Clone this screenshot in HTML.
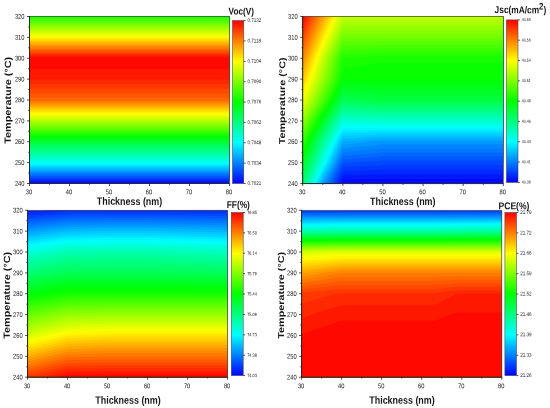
<!DOCTYPE html>
<html lang="en"><head><meta charset="utf-8"><title>Contour plots</title>
<style>html,body{margin:0;padding:0;background:#fff}body{width:550px;height:408px;overflow:hidden}svg{display:block}text{font-family:"Liberation Sans",sans-serif;fill:#161616}.b{font-weight:bold}</style></head><body>
<svg width="550" height="408" viewBox="0 0 550 408">
<defs>
<linearGradient id="cbg" x1="0" y1="0" x2="0" y2="1"><stop offset="0" stop-color="#ff0000"/><stop offset="0.25" stop-color="#ffff00"/><stop offset="0.5" stop-color="#00ff00"/><stop offset="0.75" stop-color="#00ffff"/><stop offset="1" stop-color="#0000ff"/></linearGradient>
<clipPath id="cpa"><rect x="29.5" y="16.5" width="200" height="167"/></clipPath>
<clipPath id="cpb"><rect x="302.7" y="16.5" width="200.6" height="167.1"/></clipPath>
<clipPath id="cpc"><rect x="27.6" y="210.3" width="200" height="166.9"/></clipPath>
<clipPath id="cpd"><rect x="301.6" y="210.3" width="200.2" height="166.9"/></clipPath>
</defs>
<g clip-path="url(#cpa)">
<rect x="29.5" y="16.5" width="200" height="167" fill="#0008ff"/>
<path fill="#0018ff" d="M29.5 16.5L229.5 16.5L229.5 37.4L229.5 58.2L229.5 79.1L229.5 100L229.5 120.9L229.5 141.8L229.5 162.6L229.5 182.2L29.5 182.2L29.5 162.6L29.5 141.8L29.5 120.9L29.5 100L29.5 79.1L29.5 58.2L29.5 37.4Z"/>
<path fill="#0028ff" d="M29.5 16.5L229.5 16.5L229.5 37.4L229.5 58.2L229.5 79.1L229.5 100L229.5 120.9L229.5 141.8L229.5 162.6L229.5 181L29.5 181L29.5 162.6L29.5 141.8L29.5 120.9L29.5 100L29.5 79.1L29.5 58.2L29.5 37.4Z"/>
<path fill="#0038ff" d="M29.5 16.5L229.5 16.5L229.5 37.4L229.5 58.2L229.5 79.1L229.5 100L229.5 120.9L229.5 141.8L229.5 162.6L229.5 179.7L29.5 179.7L29.5 162.6L29.5 141.8L29.5 120.9L29.5 100L29.5 79.1L29.5 58.2L29.5 37.4Z"/>
<path fill="#0048ff" d="M29.5 16.5L229.5 16.5L229.5 37.4L229.5 58.2L229.5 79.1L229.5 100L229.5 120.9L229.5 141.8L229.5 162.6L229.5 178.5L29.5 178.5L29.5 162.6L29.5 141.8L29.5 120.9L29.5 100L29.5 79.1L29.5 58.2L29.5 37.4Z"/>
<path fill="#0058ff" d="M29.5 16.5L229.5 16.5L229.5 37.4L229.5 58.2L229.5 79.1L229.5 100L229.5 120.9L229.5 141.8L229.5 162.6L229.5 177.2L29.5 177.2L29.5 162.6L29.5 141.8L29.5 120.9L29.5 100L29.5 79.1L29.5 58.2L29.5 37.4Z"/>
<path fill="#0068ff" d="M29.5 16.5L229.5 16.5L229.5 37.4L229.5 58.2L229.5 79.1L229.5 100L229.5 120.9L229.5 141.8L229.5 162.6L229.5 176L29.5 176L29.5 162.6L29.5 141.8L29.5 120.9L29.5 100L29.5 79.1L29.5 58.2L29.5 37.4Z"/>
<path fill="#0078ff" d="M29.5 16.5L229.5 16.5L229.5 37.4L229.5 58.2L229.5 79.1L229.5 100L229.5 120.9L229.5 141.8L229.5 162.6L229.5 174.7L29.5 174.7L29.5 162.6L29.5 141.8L29.5 120.9L29.5 100L29.5 79.1L29.5 58.2L29.5 37.4Z"/>
<path fill="#0087ff" d="M29.5 16.5L229.5 16.5L229.5 37.4L229.5 58.2L229.5 79.1L229.5 100L229.5 120.9L229.5 141.8L229.5 162.6L229.5 173.5L29.5 173.5L29.5 162.6L29.5 141.8L29.5 120.9L29.5 100L29.5 79.1L29.5 58.2L29.5 37.4Z"/>
<path fill="#0097ff" d="M29.5 16.5L229.5 16.5L229.5 37.4L229.5 58.2L229.5 79.1L229.5 100L229.5 120.9L229.5 141.8L229.5 162.6L229.5 172.2L29.5 172.2L29.5 162.6L29.5 141.8L29.5 120.9L29.5 100L29.5 79.1L29.5 58.2L29.5 37.4Z"/>
<path fill="#00a7ff" d="M29.5 16.5L229.5 16.5L229.5 37.4L229.5 58.2L229.5 79.1L229.5 100L229.5 120.9L229.5 141.8L229.5 162.6L229.5 171L29.5 171L29.5 162.6L29.5 141.8L29.5 120.9L29.5 100L29.5 79.1L29.5 58.2L29.5 37.4Z"/>
<path fill="#00b7ff" d="M29.5 16.5L229.5 16.5L229.5 37.4L229.5 58.2L229.5 79.1L229.5 100L229.5 120.9L229.5 141.8L229.5 162.6L229.5 169.7L29.5 169.7L29.5 162.6L29.5 141.8L29.5 120.9L29.5 100L29.5 79.1L29.5 58.2L29.5 37.4Z"/>
<path fill="#00c7ff" d="M29.5 16.5L229.5 16.5L229.5 37.4L229.5 58.2L229.5 79.1L229.5 100L229.5 120.9L229.5 141.8L229.5 162.6L229.5 168.4L29.5 168.4L29.5 162.6L29.5 141.8L29.5 120.9L29.5 100L29.5 79.1L29.5 58.2L29.5 37.4Z"/>
<path fill="#00d7ff" d="M29.5 16.5L229.5 16.5L229.5 37.4L229.5 58.2L229.5 79.1L229.5 100L229.5 120.9L229.5 141.8L229.5 162.6L229.5 167.2L29.5 167.2L29.5 162.6L29.5 141.8L29.5 120.9L29.5 100L29.5 79.1L29.5 58.2L29.5 37.4Z"/>
<path fill="#00e7ff" d="M29.5 16.5L229.5 16.5L229.5 37.4L229.5 58.2L229.5 79.1L229.5 100L229.5 120.9L229.5 141.8L229.5 162.6L229.5 165.9L29.5 165.9L29.5 162.6L29.5 141.8L29.5 120.9L29.5 100L29.5 79.1L29.5 58.2L29.5 37.4Z"/>
<path fill="#00f7ff" d="M29.5 16.5L229.5 16.5L229.5 37.4L229.5 58.2L229.5 79.1L229.5 100L229.5 120.9L229.5 141.8L229.5 162.6L229.5 164.7L29.5 164.7L29.5 162.6L29.5 141.8L29.5 120.9L29.5 100L29.5 79.1L29.5 58.2L29.5 37.4Z"/>
<path fill="#00fff7" d="M29.5 16.5L229.5 16.5L229.5 37.4L229.5 58.2L229.5 79.1L229.5 100L229.5 120.9L229.5 141.8L229.5 162.6L229.5 163.4L29.5 163.4L29.5 162.6L29.5 141.8L29.5 120.9L29.5 100L29.5 79.1L29.5 58.2L29.5 37.4Z"/>
<path fill="#00ffe7" d="M29.5 16.5L229.5 16.5L229.5 37.4L229.5 58.2L229.5 79.1L229.5 100L229.5 120.9L229.5 141.8L229.5 162L29.5 162L29.5 141.8L29.5 120.9L29.5 100L29.5 79.1L29.5 58.2L29.5 37.4Z"/>
<path fill="#00ffd7" d="M29.5 16.5L229.5 16.5L229.5 37.4L229.5 58.2L229.5 79.1L229.5 100L229.5 120.9L229.5 141.8L229.5 160.3L29.5 160.3L29.5 141.8L29.5 120.9L29.5 100L29.5 79.1L29.5 58.2L29.5 37.4Z"/>
<path fill="#00ffc7" d="M29.5 16.5L229.5 16.5L229.5 37.4L229.5 58.2L229.5 79.1L229.5 100L229.5 120.9L229.5 141.8L229.5 158.6L29.5 158.6L29.5 141.8L29.5 120.9L29.5 100L29.5 79.1L29.5 58.2L29.5 37.4Z"/>
<path fill="#00ffb7" d="M29.5 16.5L229.5 16.5L229.5 37.4L229.5 58.2L229.5 79.1L229.5 100L229.5 120.9L229.5 141.8L229.5 156.9L29.5 156.9L29.5 141.8L29.5 120.9L29.5 100L29.5 79.1L29.5 58.2L29.5 37.4Z"/>
<path fill="#00ffa7" d="M29.5 16.5L229.5 16.5L229.5 37.4L229.5 58.2L229.5 79.1L229.5 100L229.5 120.9L229.5 141.8L229.5 155.1L29.5 155.1L29.5 141.8L29.5 120.9L29.5 100L29.5 79.1L29.5 58.2L29.5 37.4Z"/>
<path fill="#00ff97" d="M29.5 16.5L229.5 16.5L229.5 37.4L229.5 58.2L229.5 79.1L229.5 100L229.5 120.9L229.5 141.8L229.5 153.4L29.5 153.4L29.5 141.8L29.5 120.9L29.5 100L29.5 79.1L29.5 58.2L29.5 37.4Z"/>
<path fill="#00ff87" d="M29.5 16.5L229.5 16.5L229.5 37.4L229.5 58.2L229.5 79.1L229.5 100L229.5 120.9L229.5 141.8L229.5 151.7L29.5 151.7L29.5 141.8L29.5 120.9L29.5 100L29.5 79.1L29.5 58.2L29.5 37.4Z"/>
<path fill="#00ff78" d="M29.5 16.5L229.5 16.5L229.5 37.4L229.5 58.2L229.5 79.1L229.5 100L229.5 120.9L229.5 141.8L229.5 150L29.5 150L29.5 141.8L29.5 120.9L29.5 100L29.5 79.1L29.5 58.2L29.5 37.4Z"/>
<path fill="#00ff68" d="M29.5 16.5L229.5 16.5L229.5 37.4L229.5 58.2L229.5 79.1L229.5 100L229.5 120.9L229.5 141.8L229.5 148.3L29.5 148.3L29.5 141.8L29.5 120.9L29.5 100L29.5 79.1L29.5 58.2L29.5 37.4Z"/>
<path fill="#00ff58" d="M29.5 16.5L229.5 16.5L229.5 37.4L229.5 58.2L229.5 79.1L229.5 100L229.5 120.9L229.5 141.8L229.5 146.6L29.5 146.6L29.5 141.8L29.5 120.9L29.5 100L29.5 79.1L29.5 58.2L29.5 37.4Z"/>
<path fill="#00ff48" d="M29.5 16.5L229.5 16.5L229.5 37.4L229.5 58.2L229.5 79.1L229.5 100L229.5 120.9L229.5 141.8L229.5 144.8L29.5 144.8L29.5 141.8L29.5 120.9L29.5 100L29.5 79.1L29.5 58.2L29.5 37.4Z"/>
<path fill="#00ff38" d="M29.5 16.5L229.5 16.5L229.5 37.4L229.5 58.2L229.5 79.1L229.5 100L229.5 120.9L229.5 141.8L229.5 143.1L29.5 143.1L29.5 141.8L29.5 120.9L29.5 100L29.5 79.1L29.5 58.2L29.5 37.4Z"/>
<path fill="#00ff28" d="M29.5 16.5L229.5 16.5L229.5 37.4L229.5 58.2L229.5 79.1L229.5 100L229.5 120.9L229.5 141.5L29.5 141.5L29.5 120.9L29.5 100L29.5 79.1L29.5 58.2L29.5 37.4Z"/>
<path fill="#00ff18" d="M29.5 16.5L229.5 16.5L229.5 37.4L229.5 58.2L229.5 79.1L229.5 100L229.5 120.9L229.5 140L29.5 140L29.5 120.9L29.5 100L29.5 79.1L29.5 58.2L29.5 37.4Z"/>
<path fill="#00ff08" d="M29.5 16.5L229.5 16.5L229.5 37.4L229.5 58.2L229.5 79.1L229.5 100L229.5 120.9L229.5 138.6L29.5 138.6L29.5 120.9L29.5 100L29.5 79.1L29.5 58.2L29.5 37.4Z"/>
<path fill="#08ff00" d="M29.5 16.5L229.5 16.5L229.5 37.4L229.5 58.2L229.5 79.1L229.5 100L229.5 120.9L229.5 137.1L29.5 137.1L29.5 120.9L29.5 100L29.5 79.1L29.5 58.2L29.5 37.4Z"/>
<path fill="#18ff00" d="M29.5 16.5L229.5 16.5L229.5 37.4L229.5 58.2L229.5 79.1L229.5 100L229.5 120.9L229.5 135.7L29.5 135.7L29.5 120.9L29.5 100L29.5 79.1L29.5 58.2L29.5 37.4Z"/>
<path fill="#28ff00" d="M29.5 37.4L29.5 16.6L229.5 16.6L229.5 37.4L229.5 58.2L229.5 79.1L229.5 100L229.5 120.9L229.5 134.2L29.5 134.2L29.5 120.9L29.5 100L29.5 79.1L29.5 58.2Z"/>
<path fill="#38ff00" d="M29.5 37.4L29.5 18.1L229.5 18.1L229.5 37.4L229.5 58.2L229.5 79.1L229.5 100L229.5 120.9L229.5 132.8L29.5 132.8L29.5 120.9L29.5 100L29.5 79.1L29.5 58.2Z"/>
<path fill="#48ff00" d="M29.5 37.4L29.5 19.5L229.5 19.5L229.5 37.4L229.5 58.2L229.5 79.1L229.5 100L229.5 120.9L229.5 131.3L29.5 131.3L29.5 120.9L29.5 100L29.5 79.1L29.5 58.2Z"/>
<path fill="#58ff00" d="M29.5 37.4L29.5 21L229.5 21L229.5 37.4L229.5 58.2L229.5 79.1L229.5 100L229.5 120.9L229.5 129.9L29.5 129.9L29.5 120.9L29.5 100L29.5 79.1L29.5 58.2Z"/>
<path fill="#68ff00" d="M29.5 37.4L29.5 22.4L229.5 22.4L229.5 37.4L229.5 58.2L229.5 79.1L229.5 100L229.5 120.9L229.5 128.4L29.5 128.4L29.5 120.9L29.5 100L29.5 79.1L29.5 58.2Z"/>
<path fill="#78ff00" d="M29.5 37.4L29.5 23.9L229.5 23.9L229.5 37.4L229.5 58.2L229.5 79.1L229.5 100L229.5 120.9L229.5 127L29.5 127L29.5 120.9L29.5 100L29.5 79.1L29.5 58.2Z"/>
<path fill="#87ff00" d="M29.5 37.4L29.5 25.3L229.5 25.3L229.5 37.4L229.5 58.2L229.5 79.1L229.5 100L229.5 120.9L229.5 125.5L29.5 125.5L29.5 120.9L29.5 100L29.5 79.1L29.5 58.2Z"/>
<path fill="#97ff00" d="M29.5 37.4L29.5 26.8L229.5 26.8L229.5 37.4L229.5 58.2L229.5 79.1L229.5 100L229.5 120.9L229.5 124.1L29.5 124.1L29.5 120.9L29.5 100L29.5 79.1L29.5 58.2Z"/>
<path fill="#a7ff00" d="M29.5 37.4L29.5 28.2L229.5 28.2L229.5 37.4L229.5 58.2L229.5 79.1L229.5 100L229.5 120.9L229.5 122.6L29.5 122.6L29.5 120.9L29.5 100L29.5 79.1L29.5 58.2Z"/>
<path fill="#b7ff00" d="M29.5 37.4L29.5 29.7L229.5 29.7L229.5 37.4L229.5 58.2L229.5 79.1L229.5 100L229.5 120.9L229.5 121.2L29.5 121.2L29.5 120.9L29.5 100L29.5 79.1L29.5 58.2Z"/>
<path fill="#c7ff00" d="M29.5 37.4L29.5 31.1L229.5 31.1L229.5 37.4L229.5 58.2L229.5 79.1L229.5 100L229.5 119.7L29.5 119.7L29.5 100L29.5 79.1L29.5 58.2Z"/>
<path fill="#d7ff00" d="M29.5 37.4L29.5 32.6L229.5 32.6L229.5 37.4L229.5 58.2L229.5 79.1L229.5 100L229.5 118.3L29.5 118.3L29.5 100L29.5 79.1L29.5 58.2Z"/>
<path fill="#e7ff00" d="M29.5 37.4L29.5 34L229.5 34L229.5 37.4L229.5 58.2L229.5 79.1L229.5 100L229.5 116.8L29.5 116.8L29.5 100L29.5 79.1L29.5 58.2Z"/>
<path fill="#f7ff00" d="M29.5 37.4L29.5 35.5L229.5 35.5L229.5 37.4L229.5 58.2L229.5 79.1L229.5 100L229.5 115.4L29.5 115.4L29.5 100L29.5 79.1L29.5 58.2Z"/>
<path fill="#fff700" d="M29.5 37.4L29.5 36.9L229.5 36.9L229.5 37.4L229.5 58.2L229.5 79.1L229.5 100L229.5 113.9L29.5 113.9L29.5 100L29.5 79.1L29.5 58.2Z"/>
<path fill="#ffe700" d="M29.5 58.2L29.5 38.3L229.5 38.3L229.5 58.2L229.5 79.1L229.5 100L229.5 112.5L29.5 112.5L29.5 100L29.5 79.1Z"/>
<path fill="#ffd700" d="M29.5 58.2L29.5 39.6L229.5 39.6L229.5 58.2L229.5 79.1L229.5 100L229.5 111L29.5 111L29.5 100L29.5 79.1Z"/>
<path fill="#ffc700" d="M29.5 58.2L29.5 40.9L229.5 40.9L229.5 58.2L229.5 79.1L229.5 100L229.5 109.6L29.5 109.6L29.5 100L29.5 79.1Z"/>
<path fill="#ffb700" d="M29.5 58.2L29.5 42.3L229.5 42.3L229.5 58.2L229.5 79.1L229.5 100L229.5 108.1L29.5 108.1L29.5 100L29.5 79.1Z"/>
<path fill="#ffa700" d="M29.5 58.2L29.5 43.6L229.5 43.6L229.5 58.2L229.5 79.1L229.5 100L229.5 106.7L29.5 106.7L29.5 100L29.5 79.1Z"/>
<path fill="#ff9700" d="M29.5 58.2L29.5 44.9L229.5 44.9L229.5 58.2L229.5 79.1L229.5 100L229.5 105.2L29.5 105.2L29.5 100L29.5 79.1Z"/>
<path fill="#ff8700" d="M29.5 58.2L29.5 46.3L229.5 46.3L229.5 58.2L229.5 79.1L229.5 100L229.5 103.8L29.5 103.8L29.5 100L29.5 79.1Z"/>
<path fill="#ff7800" d="M29.5 58.2L29.5 47.6L229.5 47.6L229.5 58.2L229.5 79.1L229.5 100L229.5 102.3L29.5 102.3L29.5 100L29.5 79.1Z"/>
<path fill="#ff6800" d="M29.5 58.2L29.5 48.9L229.5 48.9L229.5 58.2L229.5 79.1L229.5 100L229.5 100.9L29.5 100.9L29.5 100L29.5 79.1Z"/>
<path fill="#ff5800" d="M29.5 58.2L29.5 50.3L229.5 50.3L229.5 58.2L229.5 79.1L229.5 98.1L29.5 98.1L29.5 79.1Z"/>
<path fill="#ff4800" d="M29.5 58.2L29.5 51.6L229.5 51.6L229.5 58.2L229.5 79.1L229.5 93.5L29.5 93.5L29.5 79.1Z"/>
<path fill="#ff3800" d="M29.5 58.2L29.5 52.9L229.5 52.9L229.5 58.2L229.5 79.1L229.5 88.8L29.5 88.8L29.5 79.1Z"/>
<path fill="#ff2800" d="M29.5 58.2L29.5 54.3L229.5 54.3L229.5 58.2L229.5 79.1L229.5 84.2L29.5 84.2L29.5 79.1Z"/>
<path fill="#ff1800" d="M29.5 58.2L29.5 55.6L229.5 55.6L229.5 58.2L229.5 79.1L229.5 79.5L29.5 79.5L29.5 79.1Z"/>
<path fill="#ff0800" d="M29.5 58.2L29.5 56.9L229.5 56.9L229.5 58.2L229.5 69.1L29.5 69.1Z"/>
</g>
<rect x="29.5" y="16.5" width="200" height="167" fill="none" stroke="#3a3a3a" stroke-width="0.65"/>
<path d="M29.50 16.50h-2.5M29.50 26.94h-1.3M29.50 37.38h-2.5M29.50 47.81h-1.3M29.50 58.25h-2.5M29.50 68.69h-1.3M29.50 79.12h-2.5M29.50 89.56h-1.3M29.50 100.00h-2.5M29.50 110.44h-1.3M29.50 120.88h-2.5M29.50 131.31h-1.3M29.50 141.75h-2.5M29.50 152.19h-1.3M29.50 162.62h-2.5M29.50 173.06h-1.3M29.50 183.50h-2.5M29.50 183.50v2.5M49.50 183.50v1.3M69.50 183.50v2.5M89.50 183.50v1.3M109.50 183.50v2.5M129.50 183.50v1.3M149.50 183.50v2.5M169.50 183.50v1.3M189.50 183.50v2.5M209.50 183.50v1.3M229.50 183.50v2.5M29.50 16.10V183.50H229.90" fill="none" stroke="#161616" stroke-width="0.75"/>
<text transform="translate(24.5 18.8) rotate(0.1) scale(0.835 1)" font-size="6.9" text-anchor="end">320</text>
<text transform="translate(24.5 39.675) rotate(0.1) scale(0.835 1)" font-size="6.9" text-anchor="end">310</text>
<text transform="translate(24.5 60.55) rotate(0.1) scale(0.835 1)" font-size="6.9" text-anchor="end">300</text>
<text transform="translate(24.5 81.425) rotate(0.1) scale(0.835 1)" font-size="6.9" text-anchor="end">290</text>
<text transform="translate(24.5 102.3) rotate(0.1) scale(0.835 1)" font-size="6.9" text-anchor="end">280</text>
<text transform="translate(24.5 123.175) rotate(0.1) scale(0.835 1)" font-size="6.9" text-anchor="end">270</text>
<text transform="translate(24.5 144.05) rotate(0.1) scale(0.835 1)" font-size="6.9" text-anchor="end">260</text>
<text transform="translate(24.5 164.925) rotate(0.1) scale(0.835 1)" font-size="6.9" text-anchor="end">250</text>
<text transform="translate(24.5 185.8) rotate(0.1) scale(0.835 1)" font-size="6.9" text-anchor="end">240</text>
<text transform="translate(29 194.2) rotate(0.1) scale(0.835 1)" font-size="6.9" text-anchor="middle">30</text>
<text transform="translate(69 194.2) rotate(0.1) scale(0.835 1)" font-size="6.9" text-anchor="middle">40</text>
<text transform="translate(109 194.2) rotate(0.1) scale(0.835 1)" font-size="6.9" text-anchor="middle">50</text>
<text transform="translate(149 194.2) rotate(0.1) scale(0.835 1)" font-size="6.9" text-anchor="middle">60</text>
<text transform="translate(189 194.2) rotate(0.1) scale(0.835 1)" font-size="6.9" text-anchor="middle">70</text>
<text transform="translate(229 194.2) rotate(0.1) scale(0.835 1)" font-size="6.9" text-anchor="middle">80</text>
<text class="b" transform="translate(129.5 204.9) rotate(0.1) scale(0.835 1)" font-size="10.7" text-anchor="middle">Thickness (nm)</text>
<text class="b" transform="translate(10.9 100.3) rotate(-89.9) scale(1 0.835)" font-size="10.8" text-anchor="middle">Temperature (°C)</text>
<rect x="232.5" y="20.6" width="11.3" height="162.9" fill="url(#cbg)" stroke="#444" stroke-width="0.55"/>
<text transform="translate(247.5 22.1) rotate(0.1) scale(0.835 1)" font-size="5.4" text-anchor="start">0.7132</text>
<text transform="translate(247.5 42.4625) rotate(0.1) scale(0.835 1)" font-size="5.4" text-anchor="start">0.7118</text>
<text transform="translate(247.5 62.825) rotate(0.1) scale(0.835 1)" font-size="5.4" text-anchor="start">0.7104</text>
<text transform="translate(247.5 83.1875) rotate(0.1) scale(0.835 1)" font-size="5.4" text-anchor="start">0.7090</text>
<text transform="translate(247.5 103.55) rotate(0.1) scale(0.835 1)" font-size="5.4" text-anchor="start">0.7076</text>
<text transform="translate(247.5 123.912) rotate(0.1) scale(0.835 1)" font-size="5.4" text-anchor="start">0.7062</text>
<text transform="translate(247.5 144.275) rotate(0.1) scale(0.835 1)" font-size="5.4" text-anchor="start">0.7048</text>
<text transform="translate(247.5 164.637) rotate(0.1) scale(0.835 1)" font-size="5.4" text-anchor="start">0.7034</text>
<text transform="translate(247.5 185) rotate(0.1) scale(0.835 1)" font-size="5.4" text-anchor="start">0.7021</text>
<path d="M243.80 20.60h1.8M243.80 40.96h1.8M243.80 61.33h1.8M243.80 81.69h1.8M243.80 102.05h1.8M243.80 122.41h1.8M243.80 142.78h1.8M243.80 163.14h1.8M243.80 183.50h1.8" fill="none" stroke="#161616" stroke-width="0.75"/>
<text class="b" transform="translate(228.6 14.6) rotate(0.1) scale(0.835 1)" font-size="9.8" text-anchor="start">Voc(V)</text>
<g clip-path="url(#cpb)">
<rect x="302.7" y="16.5" width="200.6" height="167.1" fill="#0008ff"/>
<path fill="#0018ff" d="M302.7 16.5L322.8 16.5L342.8 16.5L382.9 16.5L503.3 16.5L503.3 37.4L503.3 58.3L503.3 79.2L503.3 100L503.3 120.9L503.3 141.8L503.3 162.7L503.3 178.9L382.9 178.9L342.8 179.5L340.8 183.6L322.8 183.6L302.7 183.6L302.7 162.7L302.7 141.8L302.7 120.9L302.7 100L302.7 79.2L302.7 58.3L302.7 37.4Z"/>
<path fill="#0028ff" d="M302.7 16.5L322.8 16.5L342.8 16.5L382.9 16.5L503.3 16.5L503.3 37.4L503.3 58.3L503.3 79.2L503.3 100L503.3 120.9L503.3 141.8L503.3 162.7L503.3 174.3L382.9 174.3L342.8 175.4L338.8 183.6L322.8 183.6L302.7 183.6L302.7 162.7L302.7 141.8L302.7 120.9L302.7 100L302.7 79.2L302.7 58.3L302.7 37.4Z"/>
<path fill="#0038ff" d="M302.7 16.5L322.8 16.5L342.8 16.5L382.9 16.5L503.3 16.5L503.3 37.4L503.3 58.3L503.3 79.2L503.3 100L503.3 120.9L503.3 141.8L503.3 162.7L503.3 169.6L382.9 169.6L342.8 171.4L336.8 183.6L322.8 183.6L302.7 183.6L302.7 162.7L302.7 141.8L302.7 120.9L302.7 100L302.7 79.2L302.7 58.3L302.7 37.4Z"/>
<path fill="#0048ff" d="M302.7 16.5L322.8 16.5L342.8 16.5L382.9 16.5L503.3 16.5L503.3 37.4L503.3 58.3L503.3 79.2L503.3 100L503.3 120.9L503.3 141.8L503.3 162.7L503.3 165L382.9 165L342.8 167.3L334.7 183.6L322.8 183.6L302.7 183.6L302.7 162.7L302.7 141.8L302.7 120.9L302.7 100L302.7 79.2L302.7 58.3L302.7 37.4Z"/>
<path fill="#0058ff" d="M302.7 16.5L322.8 16.5L342.8 16.5L382.9 16.5L503.3 16.5L503.3 37.4L503.3 58.3L503.3 79.2L503.3 100L503.3 120.9L503.3 141.8L503.3 160.6L382.9 160.6L350.3 162.7L342.8 163.2L332.7 183.6L322.8 183.6L302.7 183.6L302.7 162.7L302.7 141.8L302.7 120.9L302.7 100L302.7 79.2L302.7 58.3L302.7 37.4Z"/>
<path fill="#0068ff" d="M302.7 16.5L322.8 16.5L342.8 16.5L382.9 16.5L503.3 16.5L503.3 37.4L503.3 58.3L503.3 79.2L503.3 100L503.3 120.9L503.3 141.8L503.3 156.5L382.9 156.5L342.8 159.5L341.4 162.7L330.7 183.6L322.8 183.6L302.7 183.6L302.7 162.7L302.7 141.8L302.7 120.9L302.7 100L302.7 79.2L302.7 58.3L302.7 37.4Z"/>
<path fill="#0078ff" d="M302.7 16.5L322.8 16.5L342.8 16.5L382.9 16.5L503.3 16.5L503.3 37.4L503.3 58.3L503.3 79.2L503.3 100L503.3 120.9L503.3 141.8L503.3 152.4L382.9 152.4L342.8 155.9L339.7 162.7L328.7 183.6L322.8 183.6L302.7 183.6L302.7 162.7L302.7 141.8L302.7 120.9L302.7 100L302.7 79.2L302.7 58.3L302.7 37.4Z"/>
<path fill="#0087ff" d="M302.7 16.5L322.8 16.5L342.8 16.5L382.9 16.5L503.3 16.5L503.3 37.4L503.3 58.3L503.3 79.2L503.3 100L503.3 120.9L503.3 141.8L503.3 148.4L382.9 148.4L342.8 152.3L338.1 162.7L326.6 183.6L322.8 183.6L302.7 183.6L302.7 162.7L302.7 141.8L302.7 120.9L302.7 100L302.7 79.2L302.7 58.3L302.7 37.4Z"/>
<path fill="#0097ff" d="M302.7 16.5L322.8 16.5L342.8 16.5L382.9 16.5L503.3 16.5L503.3 37.4L503.3 58.3L503.3 79.2L503.3 100L503.3 120.9L503.3 141.8L503.3 144.3L382.9 144.3L342.8 148.6L336.4 162.7L324.6 183.6L322.8 183.6L302.7 183.6L302.7 162.7L302.7 141.8L302.7 120.9L302.7 100L302.7 79.2L302.7 58.3L302.7 37.4Z"/>
<path fill="#00a7ff" d="M302.7 16.5L322.8 16.5L342.8 16.5L382.9 16.5L503.3 16.5L503.3 37.4L503.3 58.3L503.3 79.2L503.3 100L503.3 120.9L503.3 141L382.9 141L370.4 141.8L342.8 145L334.8 162.7L322.8 183.4L322.7 183.6L302.7 183.6L302.7 162.7L302.7 141.8L302.7 120.9L302.7 100L302.7 79.2L302.7 58.3L302.7 37.4Z"/>
<path fill="#00b7ff" d="M302.7 16.5L322.8 16.5L342.8 16.5L382.9 16.5L503.3 16.5L503.3 37.4L503.3 58.3L503.3 79.2L503.3 100L503.3 120.9L503.3 138.8L382.9 138.8L342.8 141.5L342.6 141.8L333.1 162.7L322.8 180.5L321.4 183.6L302.7 183.6L302.7 162.7L302.7 141.8L302.7 120.9L302.7 100L302.7 79.2L302.7 58.3L302.7 37.4Z"/>
<path fill="#00c7ff" d="M302.7 16.5L322.8 16.5L342.8 16.5L382.9 16.5L503.3 16.5L503.3 37.4L503.3 58.3L503.3 79.2L503.3 100L503.3 120.9L503.3 136.6L382.9 136.6L342.8 138.8L341 141.8L331.5 162.7L322.8 177.7L320.1 183.6L302.7 183.6L302.7 162.7L302.7 141.8L302.7 120.9L302.7 100L302.7 79.2L302.7 58.3L302.7 37.4Z"/>
<path fill="#00d7ff" d="M302.7 16.5L322.8 16.5L342.8 16.5L382.9 16.5L503.3 16.5L503.3 37.4L503.3 58.3L503.3 79.2L503.3 100L503.3 120.9L503.3 134.4L382.9 134.4L342.8 136.1L339.3 141.8L329.8 162.7L322.8 174.9L318.8 183.6L302.7 183.6L302.7 162.7L302.7 141.8L302.7 120.9L302.7 100L302.7 79.2L302.7 58.3L302.7 37.4Z"/>
<path fill="#00e7ff" d="M302.7 16.5L322.8 16.5L342.8 16.5L382.9 16.5L503.3 16.5L503.3 37.4L503.3 58.3L503.3 79.2L503.3 100L503.3 120.9L503.3 132.3L382.9 132.3L342.8 133.3L337.7 141.8L328.2 162.7L322.8 172L317.5 183.6L302.7 183.6L302.7 162.7L302.7 141.8L302.7 120.9L302.7 100L302.7 79.2L302.7 58.3L302.7 37.4Z"/>
<path fill="#00f7ff" d="M302.7 16.5L322.8 16.5L342.8 16.5L382.9 16.5L503.3 16.5L503.3 37.4L503.3 58.3L503.3 79.2L503.3 100L503.3 120.9L503.3 130.1L382.9 130.1L342.8 130.6L336 141.8L326.5 162.7L322.8 169.2L316.3 183.6L302.7 183.6L302.7 162.7L302.7 141.8L302.7 120.9L302.7 100L302.7 79.2L302.7 58.3L302.7 37.4Z"/>
<path fill="#00fff7" d="M302.7 16.5L322.8 16.5L342.8 16.5L382.9 16.5L503.3 16.5L503.3 37.4L503.3 58.3L503.3 79.2L503.3 100L503.3 120.9L503.3 127.9L382.9 127.9L342.8 127.9L334.4 141.8L324.9 162.7L322.8 166.3L315 183.6L302.7 183.6L302.7 162.7L302.7 141.8L302.7 120.9L302.7 100L302.7 79.2L302.7 58.3L302.7 37.4Z"/>
<path fill="#00ffe7" d="M302.7 16.5L322.8 16.5L342.8 16.5L382.9 16.5L503.3 16.5L503.3 37.4L503.3 58.3L503.3 79.2L503.3 100L503.3 120.9L503.3 125.7L382.9 125.7L342.8 125.2L332.7 141.8L323.2 162.7L322.8 163.5L313.7 183.6L302.7 183.6L302.7 162.7L302.7 141.8L302.7 120.9L302.7 100L302.7 79.2L302.7 58.3L302.7 37.4Z"/>
<path fill="#00ffd7" d="M302.7 16.5L322.8 16.5L342.8 16.5L382.9 16.5L503.3 16.5L503.3 37.4L503.3 58.3L503.3 79.2L503.3 100L503.3 120.9L503.3 123.5L382.9 123.5L342.8 122.5L331.1 141.8L322.8 160.1L321.7 162.7L312.4 183.6L302.7 183.6L302.7 162.7L302.7 141.8L302.7 120.9L302.7 100L302.7 79.2L302.7 58.3L302.7 37.4Z"/>
<path fill="#00ffc7" d="M302.7 16.5L322.8 16.5L342.8 16.5L382.9 16.5L503.3 16.5L503.3 37.4L503.3 58.3L503.3 79.2L503.3 100L503.3 120.9L503.3 121.4L382.9 121.4L370.4 120.9L342.8 119.8L342 120.9L329.4 141.8L322.8 156.5L320.1 162.7L311.1 183.6L302.7 183.6L302.7 162.7L302.7 141.8L302.7 120.9L302.7 100L302.7 79.2L302.7 58.3L302.7 37.4Z"/>
<path fill="#00ffb7" d="M302.7 16.5L322.8 16.5L342.8 16.5L382.9 16.5L503.3 16.5L503.3 37.4L503.3 58.3L503.3 79.2L503.3 100L503.3 119.1L382.9 119.1L342.8 117.3L340.3 120.9L327.8 141.8L322.8 152.8L318.6 162.7L309.9 183.6L302.7 183.6L302.7 162.7L302.7 141.8L302.7 120.9L302.7 100L302.7 79.2L302.7 58.3L302.7 37.4Z"/>
<path fill="#00ffa7" d="M302.7 16.5L322.8 16.5L342.8 16.5L382.9 16.5L503.3 16.5L503.3 37.4L503.3 58.3L503.3 79.2L503.3 100L503.3 116.7L382.9 116.7L342.8 114.8L338.5 120.9L326.1 141.8L322.8 149.2L317.1 162.7L308.6 183.6L302.7 183.6L302.7 162.7L302.7 141.8L302.7 120.9L302.7 100L302.7 79.2L302.7 58.3L302.7 37.4Z"/>
<path fill="#00ff97" d="M302.7 16.5L322.8 16.5L342.8 16.5L382.9 16.5L503.3 16.5L503.3 37.4L503.3 58.3L503.3 79.2L503.3 100L503.3 114.4L382.9 114.4L342.8 112.3L336.7 120.9L324.5 141.8L322.8 145.6L315.5 162.7L307.3 183.6L302.7 183.6L302.7 162.7L302.7 141.8L302.7 120.9L302.7 100L302.7 79.2L302.7 58.3L302.7 37.4Z"/>
<path fill="#00ff87" d="M302.7 16.5L322.8 16.5L342.8 16.5L382.9 16.5L503.3 16.5L503.3 37.4L503.3 58.3L503.3 79.2L503.3 100L503.3 112.1L382.9 112.1L342.8 109.8L335 120.9L322.8 141.8L322.8 142L314 162.7L306 183.6L302.7 183.6L302.7 162.7L302.7 141.8L302.7 120.9L302.7 100L302.7 79.2L302.7 58.3L302.7 37.4Z"/>
<path fill="#00ff78" d="M302.7 16.5L322.8 16.5L342.8 16.5L382.9 16.5L503.3 16.5L503.3 37.4L503.3 58.3L503.3 79.2L503.3 100L503.3 109.7L382.9 109.7L342.8 107.3L333.2 120.9L322.8 138.9L321.2 141.8L312.5 162.7L304.7 183.6L302.7 183.6L302.7 162.7L302.7 141.8L302.7 120.9L302.7 100L302.7 79.2L302.7 58.3L302.7 37.4Z"/>
<path fill="#00ff68" d="M302.7 16.5L322.8 16.5L342.8 16.5L382.9 16.5L503.3 16.5L503.3 37.4L503.3 58.3L503.3 79.2L503.3 100L503.3 107.4L382.9 107.4L342.8 104.8L331.4 120.9L322.8 135.9L319.5 141.8L311 162.7L303.5 183.6L302.7 183.6L302.7 162.7L302.7 141.8L302.7 120.9L302.7 100L302.7 79.2L302.7 58.3L302.7 37.4Z"/>
<path fill="#00ff58" d="M302.7 16.5L322.8 16.5L342.8 16.5L382.9 16.5L503.3 16.5L503.3 37.4L503.3 58.3L503.3 79.2L503.3 100L503.3 105.1L382.9 105.1L342.8 102.3L329.7 120.9L322.8 132.8L317.9 141.8L309.4 162.7L302.7 181.9L302.7 162.7L302.7 141.8L302.7 120.9L302.7 100L302.7 79.2L302.7 58.3L302.7 37.4Z"/>
<path fill="#00ff48" d="M302.7 16.5L322.8 16.5L342.8 16.5L382.9 16.5L503.3 16.5L503.3 37.4L503.3 58.3L503.3 79.2L503.3 100L503.3 102.8L382.9 102.8L346.6 100.1L342.8 99.6L342.6 100L327.9 120.9L322.8 129.8L316.2 141.8L307.9 162.7L302.7 177.5L302.7 162.7L302.7 141.8L302.7 120.9L302.7 100L302.7 79.2L302.7 58.3L302.7 37.4Z"/>
<path fill="#00ff38" d="M302.7 16.5L322.8 16.5L342.8 16.5L382.9 16.5L503.3 16.5L503.3 37.4L503.3 58.3L503.3 79.2L503.3 100L503.3 100.4L382.9 100.4L377.9 100L342.8 95.5L340.6 100L326.2 120.9L322.8 126.8L314.6 141.8L306.4 162.7L302.7 173.2L302.7 162.7L302.7 141.8L302.7 120.9L302.7 100L302.7 79.2L302.7 58.3L302.7 37.4Z"/>
<path fill="#00ff28" d="M302.7 16.5L322.8 16.5L342.8 16.5L382.9 16.5L503.3 16.5L503.3 37.4L503.3 58.3L503.3 79.2L503.3 95.5L382.9 95.5L342.8 91.4L338.7 100.1L324.4 120.9L322.8 123.7L312.9 141.8L304.8 162.7L302.7 168.8L302.7 162.7L302.7 141.8L302.7 120.9L302.7 100L302.7 79.2L302.7 58.3L302.7 37.4Z"/>
<path fill="#00ff18" d="M302.7 16.5L322.8 16.5L342.8 16.5L382.9 16.5L503.3 16.5L503.3 37.4L503.3 58.3L503.3 79.2L503.3 90L382.9 90L342.8 87.3L336.7 100L322.8 120.7L322.6 120.9L311.3 141.8L303.3 162.7L302.7 164.5L302.7 162.7L302.7 141.8L302.7 120.9L302.7 100L302.7 79.2L302.7 58.3L302.7 37.4Z"/>
<path fill="#00ff08" d="M302.7 16.5L322.8 16.5L342.8 16.5L382.9 16.5L503.3 16.5L503.3 37.4L503.3 58.3L503.3 79.2L503.3 84.6L382.9 84.6L342.8 83.2L334.7 100L322.8 117.8L320.9 120.9L309.6 141.8L302.7 160.1L302.7 141.8L302.7 120.9L302.7 100L302.7 79.2L302.7 58.3L302.7 37.4Z"/>
<path fill="#08ff00" d="M302.7 16.5L322.8 16.5L342.8 16.5L382.9 16.5L503.3 16.5L503.3 37.4L503.3 58.3L503.3 79.2L382.9 79.2L342.8 79.2L332.8 100L322.8 114.9L319.1 120.9L308 141.8L302.7 155.8L302.7 141.8L302.7 120.9L302.7 100L302.7 79.2L302.7 58.3L302.7 37.4Z"/>
<path fill="#18ff00" d="M302.7 16.5L322.8 16.5L342.8 16.5L382.9 16.5L503.3 16.5L503.3 37.4L503.3 58.3L503.3 62.8L382.9 62.8L342.8 68.3L340.8 79.2L330.8 100L322.8 112L317.3 120.9L306.3 141.8L302.7 151.4L302.7 141.8L302.7 120.9L302.7 100L302.7 79.2L302.7 58.3L302.7 37.4Z"/>
<path fill="#28ff00" d="M302.7 16.5L322.8 16.5L342.8 16.5L382.9 16.5L503.3 16.5L503.3 37.4L503.3 55.7L382.9 55.7L342.8 57.9L342.7 58.3L338.7 79.2L328.9 100L322.8 109.1L315.6 120.9L304.7 141.8L302.7 147L302.7 141.8L302.7 120.9L302.7 100L302.7 79.2L302.7 58.3L302.7 37.4Z"/>
<path fill="#38ff00" d="M302.7 16.5L322.8 16.5L342.8 16.5L382.9 16.5L503.3 16.5L503.3 37.4L503.3 52L382.9 52L342.8 53.9L340.8 58.3L336.7 79.2L326.9 100L322.8 106.2L313.8 120.9L303 141.8L302.7 142.7L302.7 141.8L302.7 120.9L302.7 100L302.7 79.2L302.7 58.3L302.7 37.4Z"/>
<path fill="#48ff00" d="M302.7 16.5L322.8 16.5L342.8 16.5L382.9 16.5L503.3 16.5L503.3 37.4L503.3 48.4L382.9 48.4L342.8 49.8L339 58.3L334.6 79.2L325 100L322.8 103.3L312 120.9L302.7 139.1L302.7 120.9L302.7 100L302.7 79.2L302.7 58.3L302.7 37.4Z"/>
<path fill="#58ff00" d="M302.7 16.5L322.8 16.5L342.8 16.5L382.9 16.5L503.3 16.5L503.3 37.4L503.3 44.8L382.9 44.8L342.8 45.7L337.1 58.3L332.5 79.2L323 100L322.8 100.4L310.3 120.9L302.7 135.6L302.7 120.9L302.7 100L302.7 79.2L302.7 58.3L302.7 37.4Z"/>
<path fill="#68ff00" d="M302.7 16.5L322.8 16.5L342.8 16.5L382.9 16.5L503.3 16.5L503.3 37.4L503.3 41.2L382.9 41.2L342.8 41.6L335.3 58.3L330.5 79.2L322.8 96.1L321 100L308.5 120.9L302.7 132.2L302.7 120.9L302.7 100L302.7 79.2L302.7 58.3L302.7 37.4Z"/>
<path fill="#78ff00" d="M302.7 16.5L322.8 16.5L342.8 16.5L382.9 16.5L503.3 16.5L503.3 37.4L503.3 37.5L382.9 37.5L342.8 37.6L333.5 58.3L328.4 79.2L322.8 91.6L319.1 100L306.7 120.9L302.7 128.8L302.7 120.9L302.7 100L302.7 79.2L302.7 58.3L302.7 37.4Z"/>
<path fill="#87ff00" d="M302.7 16.5L322.8 16.5L342.8 16.5L382.9 16.5L503.3 16.5L503.3 33.5L382.9 33.5L342.8 33.5L341 37.4L331.6 58.3L326.4 79.2L322.8 87.1L317.1 100L305 120.9L302.7 125.3L302.7 120.9L302.7 100L302.7 79.2L302.7 58.3L302.7 37.4Z"/>
<path fill="#97ff00" d="M302.7 16.5L322.8 16.5L342.8 16.5L382.9 16.5L503.3 16.5L503.3 29.4L382.9 29.4L342.8 29.4L339 37.4L329.8 58.3L324.3 79.2L322.8 82.6L315.2 100L303.2 120.9L302.7 121.9L302.7 120.9L302.7 100L302.7 79.2L302.7 58.3L302.7 37.4Z"/>
<path fill="#a7ff00" d="M302.7 16.5L322.8 16.5L342.8 16.5L382.9 16.5L503.3 16.5L503.3 25.3L382.9 25.3L342.8 25.3L337.1 37.4L327.9 58.3L322.8 77.5L322.3 79.2L313.2 100L302.7 118.5L302.7 100L302.7 79.2L302.7 58.3L302.7 37.4Z"/>
<path fill="#b7ff00" d="M302.7 16.5L322.8 16.5L342.8 16.5L382.9 16.5L503.3 16.5L503.3 21.2L382.9 21.2L342.8 21.2L335.2 37.4L326.1 58.3L322.8 70.6L320.2 79.2L311.2 100L302.7 115L302.7 100L302.7 79.2L302.7 58.3L302.7 37.4Z"/>
<path fill="#c7ff00" d="M302.7 16.5L322.8 16.5L342.8 16.5L382.9 16.5L503.3 16.5L503.3 17.2L382.9 17.2L342.8 17.2L333.3 37.4L324.2 58.3L322.8 63.8L318.2 79.2L309.3 100L302.7 111.6L302.7 100L302.7 79.2L302.7 58.3L302.7 37.4Z"/>
<path fill="#d7ff00" d="M302.7 16.5L322.8 16.5L341.1 16.5L331.3 37.4L322.8 57.4L322.4 58.3L316.1 79.2L307.3 100L302.7 108.2L302.7 100L302.7 79.2L302.7 58.3L302.7 37.4Z"/>
<path fill="#e7ff00" d="M302.7 16.5L322.8 16.5L339.1 16.5L329.4 37.4L322.8 52.9L320.5 58.3L314 79.2L305.4 100L302.7 104.7L302.7 100L302.7 79.2L302.7 58.3L302.7 37.4Z"/>
<path fill="#f7ff00" d="M302.7 16.5L322.8 16.5L337.1 16.5L327.5 37.4L322.8 48.4L318.7 58.3L312 79.2L303.4 100L302.7 101.3L302.7 100L302.7 79.2L302.7 58.3L302.7 37.4Z"/>
<path fill="#fff700" d="M302.7 16.5L322.8 16.5L335.1 16.5L325.5 37.4L322.8 43.9L316.9 58.3L309.9 79.2L302.7 96.8L302.7 79.2L302.7 58.3L302.7 37.4Z"/>
<path fill="#ffe700" d="M302.7 16.5L322.8 16.5L333 16.5L323.6 37.4L322.8 39.4L315 58.3L307.9 79.2L302.7 91.8L302.7 79.2L302.7 58.3L302.7 37.4Z"/>
<path fill="#ffd700" d="M302.7 16.5L322.8 16.5L331 16.5L322.8 34.9L321.7 37.4L313.2 58.3L305.8 79.2L302.7 86.8L302.7 79.2L302.7 58.3L302.7 37.4Z"/>
<path fill="#ffc700" d="M302.7 16.5L322.8 16.5L329 16.5L322.8 30.4L319.8 37.4L311.3 58.3L303.8 79.2L302.7 81.8L302.7 79.2L302.7 58.3L302.7 37.4Z"/>
<path fill="#ffb700" d="M302.7 16.5L322.8 16.5L327 16.5L322.8 25.9L317.8 37.4L309.5 58.3L302.7 76.8L302.7 58.3L302.7 37.4Z"/>
<path fill="#ffa700" d="M302.7 16.5L322.8 16.5L324.9 16.5L322.8 21.4L315.9 37.4L307.6 58.3L302.7 71.7L302.7 58.3L302.7 37.4Z"/>
<path fill="#ff9700" d="M302.7 16.5L322.8 16.5L322.9 16.5L322.8 16.9L314 37.4L305.8 58.3L302.7 66.7L302.7 58.3L302.7 37.4Z"/>
<path fill="#ff8700" d="M302.7 16.5L320.9 16.5L312 37.4L304 58.3L302.7 61.7L302.7 58.3L302.7 37.4Z"/>
<path fill="#ff7800" d="M302.7 16.5L318.9 16.5L310.1 37.4L302.7 56.7L302.7 37.4Z"/>
<path fill="#ff6800" d="M302.7 16.5L316.9 16.5L308.2 37.4L302.7 51.6L302.7 37.4Z"/>
<path fill="#ff5800" d="M302.7 16.5L314.8 16.5L306.2 37.4L302.7 46.6L302.7 37.4Z"/>
<path fill="#ff4800" d="M302.7 16.5L312.8 16.5L304.3 37.4L302.7 41.6L302.7 37.4Z"/>
<path fill="#ff3800" d="M302.7 16.5L310.8 16.5L302.7 36.6Z"/>
<path fill="#ff2800" d="M302.7 16.5L308.8 16.5L302.7 31.6Z"/>
<path fill="#ff1800" d="M302.7 16.5L306.7 16.5L302.7 26.5Z"/>
<path fill="#ff0800" d="M302.7 16.5L304.7 16.5L302.7 21.5Z"/>
</g>
<rect x="302.7" y="16.5" width="200.6" height="167.1" fill="none" stroke="#3a3a3a" stroke-width="0.65"/>
<path d="M302.70 16.50h-2.5M302.70 26.94h-1.3M302.70 37.39h-2.5M302.70 47.83h-1.3M302.70 58.27h-2.5M302.70 68.72h-1.3M302.70 79.16h-2.5M302.70 89.61h-1.3M302.70 100.05h-2.5M302.70 110.49h-1.3M302.70 120.94h-2.5M302.70 131.38h-1.3M302.70 141.82h-2.5M302.70 152.27h-1.3M302.70 162.71h-2.5M302.70 173.16h-1.3M302.70 183.60h-2.5M302.70 183.60v2.5M322.76 183.60v1.3M342.82 183.60v2.5M362.88 183.60v1.3M382.94 183.60v2.5M403.00 183.60v1.3M423.06 183.60v2.5M443.12 183.60v1.3M463.18 183.60v2.5M483.24 183.60v1.3M503.30 183.60v2.5M302.70 16.10V183.60H503.70" fill="none" stroke="#161616" stroke-width="0.75"/>
<text transform="translate(297.7 18.8) rotate(0.1) scale(0.835 1)" font-size="6.9" text-anchor="end">320</text>
<text transform="translate(297.7 39.6875) rotate(0.1) scale(0.835 1)" font-size="6.9" text-anchor="end">310</text>
<text transform="translate(297.7 60.575) rotate(0.1) scale(0.835 1)" font-size="6.9" text-anchor="end">300</text>
<text transform="translate(297.7 81.4625) rotate(0.1) scale(0.835 1)" font-size="6.9" text-anchor="end">290</text>
<text transform="translate(297.7 102.35) rotate(0.1) scale(0.835 1)" font-size="6.9" text-anchor="end">280</text>
<text transform="translate(297.7 123.237) rotate(0.1) scale(0.835 1)" font-size="6.9" text-anchor="end">270</text>
<text transform="translate(297.7 144.125) rotate(0.1) scale(0.835 1)" font-size="6.9" text-anchor="end">260</text>
<text transform="translate(297.7 165.013) rotate(0.1) scale(0.835 1)" font-size="6.9" text-anchor="end">250</text>
<text transform="translate(297.7 185.9) rotate(0.1) scale(0.835 1)" font-size="6.9" text-anchor="end">240</text>
<text transform="translate(302.2 194.2) rotate(0.1) scale(0.835 1)" font-size="6.9" text-anchor="middle">30</text>
<text transform="translate(342.32 194.2) rotate(0.1) scale(0.835 1)" font-size="6.9" text-anchor="middle">40</text>
<text transform="translate(382.44 194.2) rotate(0.1) scale(0.835 1)" font-size="6.9" text-anchor="middle">50</text>
<text transform="translate(422.56 194.2) rotate(0.1) scale(0.835 1)" font-size="6.9" text-anchor="middle">60</text>
<text transform="translate(462.68 194.2) rotate(0.1) scale(0.835 1)" font-size="6.9" text-anchor="middle">70</text>
<text transform="translate(502.8 194.2) rotate(0.1) scale(0.835 1)" font-size="6.9" text-anchor="middle">80</text>
<text class="b" transform="translate(402.8 205) rotate(0.1) scale(0.835 1)" font-size="10.7" text-anchor="middle">Thickness (nm)</text>
<text class="b" transform="translate(285.1 100.9) rotate(-89.9) scale(1 0.79)" font-size="10.8" text-anchor="middle">Temperature (°C)</text>
<rect x="506.4" y="19.9" width="11.6" height="162.5" fill="url(#cbg)" stroke="#444" stroke-width="0.55"/>
<text transform="translate(521.8 21.1) rotate(0.1) scale(0.835 1)" font-size="4.3" text-anchor="start">40.59</text>
<text transform="translate(521.8 41.4125) rotate(0.1) scale(0.835 1)" font-size="4.3" text-anchor="start">40.56</text>
<text transform="translate(521.8 61.725) rotate(0.1) scale(0.835 1)" font-size="4.3" text-anchor="start">40.54</text>
<text transform="translate(521.8 82.0375) rotate(0.1) scale(0.835 1)" font-size="4.3" text-anchor="start">40.51</text>
<text transform="translate(521.8 102.35) rotate(0.1) scale(0.835 1)" font-size="4.3" text-anchor="start">40.48</text>
<text transform="translate(521.8 122.663) rotate(0.1) scale(0.835 1)" font-size="4.3" text-anchor="start">40.46</text>
<text transform="translate(521.8 142.975) rotate(0.1) scale(0.835 1)" font-size="4.3" text-anchor="start">40.43</text>
<text transform="translate(521.8 163.287) rotate(0.1) scale(0.835 1)" font-size="4.3" text-anchor="start">40.41</text>
<text transform="translate(521.8 183.6) rotate(0.1) scale(0.835 1)" font-size="4.3" text-anchor="start">40.38</text>
<path d="M518.00 19.90h1.8M518.00 40.21h1.8M518.00 60.52h1.8M518.00 80.84h1.8M518.00 101.15h1.8M518.00 121.46h1.8M518.00 141.78h1.8M518.00 162.09h1.8M518.00 182.40h1.8" fill="none" stroke="#161616" stroke-width="0.75"/>
<text class="b" transform="translate(494.6 13.1) rotate(0.1) scale(0.835 1)" font-size="10" text-anchor="start">Jsc(mA/cm<tspan dy="-3.7" font-size="9.5">2</tspan><tspan dy="3.7">)</tspan></text>
<g clip-path="url(#cpc)">
<rect x="27.6" y="210.3" width="200" height="166.9" fill="#0018ff"/>
<path fill="#0028ff" d="M50.1 210.3L67.6 210.3L107.6 210.3L147.6 210.3L227.6 210.3L227.6 231.2L227.6 252L227.6 272.9L227.6 293.8L227.6 314.6L227.6 335.5L227.6 356.3L227.6 377.2L147.6 377.2L107.6 377.2L67.6 377.2L27.6 377.2L27.6 356.3L27.6 335.5L27.6 314.6L27.6 293.8L27.6 272.9L27.6 252L27.6 231.2L27.6 212Z"/>
<path fill="#0038ff" d="M27.6 231.2L27.6 214.5L67.6 211.3L107.6 211.3L147.6 211.3L227.6 211.3L227.6 231.2L227.6 252L227.6 272.9L227.6 293.8L227.6 314.6L227.6 335.5L227.6 356.3L227.6 377.2L147.6 377.2L107.6 377.2L67.6 377.2L27.6 377.2L27.6 356.3L27.6 335.5L27.6 314.6L27.6 293.8L27.6 272.9L27.6 252Z"/>
<path fill="#0048ff" d="M27.6 231.2L27.6 216.9L67.6 213.5L107.6 213.4L147.6 213.4L227.6 213.7L227.6 231.2L227.6 252L227.6 272.9L227.6 293.8L227.6 314.6L227.6 335.5L227.6 356.3L227.6 377.2L147.6 377.2L107.6 377.2L67.6 377.2L27.6 377.2L27.6 356.3L27.6 335.5L27.6 314.6L27.6 293.8L27.6 272.9L27.6 252Z"/>
<path fill="#0058ff" d="M27.6 231.2L27.6 219.3L67.6 215.8L107.6 215.6L147.6 215.6L227.6 216L227.6 231.2L227.6 252L227.6 272.9L227.6 293.8L227.6 314.6L227.6 335.5L227.6 356.3L227.6 377.2L147.6 377.2L107.6 377.2L67.6 377.2L27.6 377.2L27.6 356.3L27.6 335.5L27.6 314.6L27.6 293.8L27.6 272.9L27.6 252Z"/>
<path fill="#0068ff" d="M27.6 231.2L27.6 221.7L67.6 218L107.6 217.8L147.6 217.8L227.6 218.3L227.6 231.2L227.6 252L227.6 272.9L227.6 293.8L227.6 314.6L227.6 335.5L227.6 356.3L227.6 377.2L147.6 377.2L107.6 377.2L67.6 377.2L27.6 377.2L27.6 356.3L27.6 335.5L27.6 314.6L27.6 293.8L27.6 272.9L27.6 252Z"/>
<path fill="#0078ff" d="M27.6 231.2L27.6 224.1L67.6 220.3L107.6 219.9L147.6 219.9L227.6 220.6L227.6 231.2L227.6 252L227.6 272.9L227.6 293.8L227.6 314.6L227.6 335.5L227.6 356.3L227.6 377.2L147.6 377.2L107.6 377.2L67.6 377.2L27.6 377.2L27.6 356.3L27.6 335.5L27.6 314.6L27.6 293.8L27.6 272.9L27.6 252Z"/>
<path fill="#0087ff" d="M27.6 231.2L27.6 226.5L67.6 222.5L107.6 222.1L147.6 222.1L227.6 223L227.6 231.2L227.6 252L227.6 272.9L227.6 293.8L227.6 314.6L227.6 335.5L227.6 356.3L227.6 377.2L147.6 377.2L107.6 377.2L67.6 377.2L27.6 377.2L27.6 356.3L27.6 335.5L27.6 314.6L27.6 293.8L27.6 272.9L27.6 252Z"/>
<path fill="#0097ff" d="M27.6 231.2L27.6 228.9L67.6 224.8L107.6 224.3L147.6 224.3L227.6 225.3L227.6 231.2L227.6 252L227.6 272.9L227.6 293.8L227.6 314.6L227.6 335.5L227.6 356.3L227.6 377.2L147.6 377.2L107.6 377.2L67.6 377.2L27.6 377.2L27.6 356.3L27.6 335.5L27.6 314.6L27.6 293.8L27.6 272.9L27.6 252Z"/>
<path fill="#00a7ff" d="M29.3 231.2L67.6 227L107.6 226.5L147.6 226.5L227.6 227.6L227.6 231.2L227.6 252L227.6 272.9L227.6 293.8L227.6 314.6L227.6 335.5L227.6 356.3L227.6 377.2L147.6 377.2L107.6 377.2L67.6 377.2L27.6 377.2L27.6 356.3L27.6 335.5L27.6 314.6L27.6 293.8L27.6 272.9L27.6 252L27.6 231.4Z"/>
<path fill="#00b7ff" d="M50.1 231.2L67.6 229.3L107.6 228.6L147.6 228.6L227.6 230L227.6 231.2L227.6 252L227.6 272.9L227.6 293.8L227.6 314.6L227.6 335.5L227.6 356.3L227.6 377.2L147.6 377.2L107.6 377.2L67.6 377.2L27.6 377.2L27.6 356.3L27.6 335.5L27.6 314.6L27.6 293.8L27.6 272.9L27.6 252L27.6 233.8Z"/>
<path fill="#00c7ff" d="M87.6 231.2L107.6 230.8L147.6 230.8L167.6 231.2L227.6 232.3L227.6 252L227.6 272.9L227.6 293.8L227.6 314.6L227.6 335.5L227.6 356.3L227.6 377.2L147.6 377.2L107.6 377.2L67.6 377.2L27.6 377.2L27.6 356.3L27.6 335.5L27.6 314.6L27.6 293.8L27.6 272.9L27.6 252L27.6 236.2L67.6 231.5Z"/>
<path fill="#00d7ff" d="M27.6 252L27.6 238.6L67.6 233.9L107.6 233.1L147.6 233.1L227.6 234.7L227.6 252L227.6 272.9L227.6 293.8L227.6 314.6L227.6 335.5L227.6 356.3L227.6 377.2L147.6 377.2L107.6 377.2L67.6 377.2L27.6 377.2L27.6 356.3L27.6 335.5L27.6 314.6L27.6 293.8L27.6 272.9Z"/>
<path fill="#00e7ff" d="M27.6 252L27.6 241L67.6 236.2L107.6 235.4L147.6 235.4L227.6 237.2L227.6 252L227.6 272.9L227.6 293.8L227.6 314.6L227.6 335.5L227.6 356.3L227.6 377.2L147.6 377.2L107.6 377.2L67.6 377.2L27.6 377.2L27.6 356.3L27.6 335.5L27.6 314.6L27.6 293.8L27.6 272.9Z"/>
<path fill="#00f7ff" d="M27.6 252L27.6 243.4L67.6 238.5L107.6 237.8L147.6 237.8L227.6 239.6L227.6 252L227.6 272.9L227.6 293.8L227.6 314.6L227.6 335.5L227.6 356.3L227.6 377.2L147.6 377.2L107.6 377.2L67.6 377.2L27.6 377.2L27.6 356.3L27.6 335.5L27.6 314.6L27.6 293.8L27.6 272.9Z"/>
<path fill="#00fff7" d="M27.6 252L27.6 245.8L67.6 240.8L107.6 240.1L147.6 240.1L227.6 242L227.6 252L227.6 272.9L227.6 293.8L227.6 314.6L227.6 335.5L227.6 356.3L227.6 377.2L147.6 377.2L107.6 377.2L67.6 377.2L27.6 377.2L27.6 356.3L27.6 335.5L27.6 314.6L27.6 293.8L27.6 272.9Z"/>
<path fill="#00ffe7" d="M27.6 252L27.6 248.3L67.6 243.2L107.6 242.4L147.6 242.4L227.6 244.4L227.6 252L227.6 272.9L227.6 293.8L227.6 314.6L227.6 335.5L227.6 356.3L227.6 377.2L147.6 377.2L107.6 377.2L67.6 377.2L27.6 377.2L27.6 356.3L27.6 335.5L27.6 314.6L27.6 293.8L27.6 272.9Z"/>
<path fill="#00ffd7" d="M27.6 252L27.6 250.7L67.6 245.5L107.6 244.8L147.6 244.8L227.6 246.8L227.6 252L227.6 272.9L227.6 293.8L227.6 314.6L227.6 335.5L227.6 356.3L227.6 377.2L147.6 377.2L107.6 377.2L67.6 377.2L27.6 377.2L27.6 356.3L27.6 335.5L27.6 314.6L27.6 293.8L27.6 272.9Z"/>
<path fill="#00ffc7" d="M35.5 252L67.6 247.8L107.6 247.1L147.6 247.1L227.6 249.2L227.6 252L227.6 272.9L227.6 293.8L227.6 314.6L227.6 335.5L227.6 356.3L227.6 377.2L147.6 377.2L107.6 377.2L67.6 377.2L27.6 377.2L27.6 356.3L27.6 335.5L27.6 314.6L27.6 293.8L27.6 272.9L27.6 253.5Z"/>
<path fill="#00ffb7" d="M53.3 252L67.6 250.2L107.6 249.4L147.6 249.4L227.6 251.6L227.6 252L227.6 272.9L227.6 293.8L227.6 314.6L227.6 335.5L227.6 356.3L227.6 377.2L147.6 377.2L107.6 377.2L67.6 377.2L27.6 377.2L27.6 356.3L27.6 335.5L27.6 314.6L27.6 293.8L27.6 272.9L27.6 256.7Z"/>
<path fill="#00ffa7" d="M92.6 252L107.6 251.7L147.6 251.7L157.6 252L227.6 254.8L227.6 272.9L227.6 293.8L227.6 314.6L227.6 335.5L227.6 356.3L227.6 377.2L147.6 377.2L107.6 377.2L67.6 377.2L27.6 377.2L27.6 356.3L27.6 335.5L27.6 314.6L27.6 293.8L27.6 272.9L27.6 260L67.6 252.7Z"/>
<path fill="#00ff97" d="M27.6 272.9L27.6 263.2L67.6 256.1L107.6 255.2L147.6 255.2L227.6 258L227.6 272.9L227.6 293.8L227.6 314.6L227.6 335.5L227.6 356.3L227.6 377.2L147.6 377.2L107.6 377.2L67.6 377.2L27.6 377.2L27.6 356.3L27.6 335.5L27.6 314.6L27.6 293.8Z"/>
<path fill="#00ff87" d="M27.6 272.9L27.6 266.5L67.6 259.6L107.6 258.8L147.6 258.8L227.6 261.3L227.6 272.9L227.6 293.8L227.6 314.6L227.6 335.5L227.6 356.3L227.6 377.2L147.6 377.2L107.6 377.2L67.6 377.2L27.6 377.2L27.6 356.3L27.6 335.5L27.6 314.6L27.6 293.8Z"/>
<path fill="#00ff78" d="M27.6 272.9L27.6 269.8L67.6 263L107.6 262.5L147.6 262.5L227.6 264.5L227.6 272.9L227.6 293.8L227.6 314.6L227.6 335.5L227.6 356.3L227.6 377.2L147.6 377.2L107.6 377.2L67.6 377.2L27.6 377.2L27.6 356.3L27.6 335.5L27.6 314.6L27.6 293.8Z"/>
<path fill="#00ff68" d="M28.4 272.9L67.6 266.4L107.6 266.1L147.6 266.1L227.6 267.8L227.6 272.9L227.6 293.8L227.6 314.6L227.6 335.5L227.6 356.3L227.6 377.2L147.6 377.2L107.6 377.2L67.6 377.2L27.6 377.2L27.6 356.3L27.6 335.5L27.6 314.6L27.6 293.8L27.6 273Z"/>
<path fill="#00ff58" d="M49.3 272.9L67.6 269.9L107.6 269.7L147.6 269.7L227.6 271.1L227.6 272.9L227.6 293.8L227.6 314.6L227.6 335.5L227.6 356.3L227.6 377.2L147.6 377.2L107.6 377.2L67.6 377.2L27.6 377.2L27.6 356.3L27.6 335.5L27.6 314.6L27.6 293.8L27.6 276.3Z"/>
<path fill="#00ff48" d="M27.6 293.8L27.6 279.5L67.6 273.3L107.6 273.3L147.6 273.3L227.6 274.3L227.6 293.8L227.6 314.6L227.6 335.5L227.6 356.3L227.6 377.2L147.6 377.2L107.6 377.2L67.6 377.2L27.6 377.2L27.6 356.3L27.6 335.5L27.6 314.6Z"/>
<path fill="#00ff38" d="M27.6 293.8L27.6 282.8L67.6 276.5L107.6 276.5L147.6 276.5L227.6 277.4L227.6 293.8L227.6 314.6L227.6 335.5L227.6 356.3L227.6 377.2L147.6 377.2L107.6 377.2L67.6 377.2L27.6 377.2L27.6 356.3L27.6 335.5L27.6 314.6Z"/>
<path fill="#00ff28" d="M27.6 293.8L27.6 286.1L67.6 279.8L107.6 279.8L147.6 279.8L227.6 280.5L227.6 293.8L227.6 314.6L227.6 335.5L227.6 356.3L227.6 377.2L147.6 377.2L107.6 377.2L67.6 377.2L27.6 377.2L27.6 356.3L27.6 335.5L27.6 314.6Z"/>
<path fill="#00ff18" d="M27.6 293.8L27.6 289.3L67.6 283.1L107.6 283.1L147.6 283.1L227.6 283.6L227.6 293.8L227.6 314.6L227.6 335.5L227.6 356.3L227.6 377.2L147.6 377.2L107.6 377.2L67.6 377.2L27.6 377.2L27.6 356.3L27.6 335.5L27.6 314.6Z"/>
<path fill="#00ff08" d="M27.6 293.8L27.6 292.6L67.6 286.3L107.6 286.3L147.6 286.3L227.6 286.7L227.6 293.8L227.6 314.6L227.6 335.5L227.6 356.3L227.6 377.2L147.6 377.2L107.6 377.2L67.6 377.2L27.6 377.2L27.6 356.3L27.6 335.5L27.6 314.6Z"/>
<path fill="#08ff00" d="M40.9 293.8L67.6 289.6L107.6 289.6L147.6 289.6L227.6 289.8L227.6 293.8L227.6 314.6L227.6 335.5L227.6 356.3L227.6 377.2L147.6 377.2L107.6 377.2L67.6 377.2L27.6 377.2L27.6 356.3L27.6 335.5L27.6 314.6L27.6 295.6Z"/>
<path fill="#18ff00" d="M61.8 293.8L67.6 292.8L107.6 292.8L147.6 292.8L227.6 292.9L227.6 293.8L227.6 314.6L227.6 335.5L227.6 356.3L227.6 377.2L147.6 377.2L107.6 377.2L67.6 377.2L27.6 377.2L27.6 356.3L27.6 335.5L27.6 314.6L27.6 298.6Z"/>
<path fill="#28ff00" d="M27.6 314.6L27.6 301.6L67.6 295.6L107.6 295.6L147.6 295.6L227.6 295.6L227.6 314.6L227.6 335.5L227.6 356.3L227.6 377.2L147.6 377.2L107.6 377.2L67.6 377.2L27.6 377.2L27.6 356.3L27.6 335.5Z"/>
<path fill="#38ff00" d="M27.6 314.6L27.6 304.5L67.6 298.2L107.6 298.1L147.6 298.1L227.6 298.1L227.6 314.6L227.6 335.5L227.6 356.3L227.6 377.2L147.6 377.2L107.6 377.2L67.6 377.2L27.6 377.2L27.6 356.3L27.6 335.5Z"/>
<path fill="#48ff00" d="M27.6 314.6L27.6 307.5L67.6 300.8L107.6 300.6L147.6 300.6L227.6 300.6L227.6 314.6L227.6 335.5L227.6 356.3L227.6 377.2L147.6 377.2L107.6 377.2L67.6 377.2L27.6 377.2L27.6 356.3L27.6 335.5Z"/>
<path fill="#58ff00" d="M27.6 314.6L27.6 310.5L67.6 303.5L107.6 303.1L147.6 303.1L227.6 303.1L227.6 314.6L227.6 335.5L227.6 356.3L227.6 377.2L147.6 377.2L107.6 377.2L67.6 377.2L27.6 377.2L27.6 356.3L27.6 335.5Z"/>
<path fill="#68ff00" d="M27.6 314.6L27.6 313.4L67.6 306.1L107.6 305.6L147.6 305.6L227.6 305.6L227.6 314.6L227.6 335.5L227.6 356.3L227.6 377.2L147.6 377.2L107.6 377.2L67.6 377.2L27.6 377.2L27.6 356.3L27.6 335.5Z"/>
<path fill="#78ff00" d="M35.9 314.6L67.6 308.7L107.6 308.1L147.6 308.1L227.6 308.1L227.6 314.6L227.6 335.5L227.6 356.3L227.6 377.2L147.6 377.2L107.6 377.2L67.6 377.2L27.6 377.2L27.6 356.3L27.6 335.5L27.6 316.4Z"/>
<path fill="#87ff00" d="M49.8 314.6L67.6 311.3L107.6 310.6L147.6 310.6L227.6 310.6L227.6 314.6L227.6 335.5L227.6 356.3L227.6 377.2L147.6 377.2L107.6 377.2L67.6 377.2L27.6 377.2L27.6 356.3L27.6 335.5L27.6 319.4Z"/>
<path fill="#97ff00" d="M63.7 314.6L67.6 313.9L107.6 313.1L147.6 313.1L227.6 313.1L227.6 314.6L227.6 335.5L227.6 356.3L227.6 377.2L147.6 377.2L107.6 377.2L67.6 377.2L27.6 377.2L27.6 356.3L27.6 335.5L27.6 322.3Z"/>
<path fill="#a7ff00" d="M27.6 335.5L27.6 325.3L67.6 316.6L107.6 315.7L147.6 315.7L227.6 315.7L227.6 335.5L227.6 356.3L227.6 377.2L147.6 377.2L107.6 377.2L67.6 377.2L27.6 377.2L27.6 356.3Z"/>
<path fill="#b7ff00" d="M27.6 335.5L27.6 328.2L67.6 319.3L107.6 318.3L147.6 318.3L227.6 318.3L227.6 335.5L227.6 356.3L227.6 377.2L147.6 377.2L107.6 377.2L67.6 377.2L27.6 377.2L27.6 356.3Z"/>
<path fill="#c7ff00" d="M27.6 335.5L27.6 331.2L67.6 322L107.6 320.9L147.6 320.9L227.6 320.9L227.6 335.5L227.6 356.3L227.6 377.2L147.6 377.2L107.6 377.2L67.6 377.2L27.6 377.2L27.6 356.3Z"/>
<path fill="#d7ff00" d="M27.6 335.5L27.6 334.2L67.6 324.7L107.6 323.5L147.6 323.5L227.6 323.5L227.6 335.5L227.6 356.3L227.6 377.2L147.6 377.2L107.6 377.2L67.6 377.2L27.6 377.2L27.6 356.3Z"/>
<path fill="#e7ff00" d="M34 335.5L67.6 327.4L107.6 326.1L147.6 326.1L227.6 326.1L227.6 335.5L227.6 356.3L227.6 377.2L147.6 377.2L107.6 377.2L67.6 377.2L27.6 377.2L27.6 356.3L27.6 337Z"/>
<path fill="#f7ff00" d="M45.3 335.5L67.6 330.2L107.6 328.7L147.6 328.7L227.6 328.7L227.6 335.5L227.6 356.3L227.6 377.2L147.6 377.2L107.6 377.2L67.6 377.2L27.6 377.2L27.6 356.3L27.6 339.7Z"/>
<path fill="#fff700" d="M56.7 335.5L67.6 332.9L107.6 331.3L147.6 331.3L227.6 331.3L227.6 335.5L227.6 356.3L227.6 377.2L147.6 377.2L107.6 377.2L67.6 377.2L27.6 377.2L27.6 356.3L27.6 342.4Z"/>
<path fill="#ffe700" d="M70.1 335.5L107.6 333.9L147.6 333.9L227.6 333.9L227.6 335.5L227.6 356.3L227.6 377.2L147.6 377.2L107.6 377.2L67.6 377.2L27.6 377.2L27.6 356.3L27.6 345.1L67.6 335.6Z"/>
<path fill="#ffd700" d="M27.6 356.3L27.6 347.9L67.6 338.3L107.6 336.6L147.6 336.6L227.6 336.6L227.6 356.3L227.6 377.2L147.6 377.2L107.6 377.2L67.6 377.2L27.6 377.2Z"/>
<path fill="#ffc700" d="M27.6 356.3L27.6 350.6L67.6 341L107.6 339.4L147.6 339.4L227.6 339.4L227.6 356.3L227.6 377.2L147.6 377.2L107.6 377.2L67.6 377.2L27.6 377.2Z"/>
<path fill="#ffb700" d="M27.6 356.3L27.6 353.3L67.6 343.7L107.6 342.3L147.6 342.3L227.6 342.3L227.6 356.3L227.6 377.2L147.6 377.2L107.6 377.2L67.6 377.2L27.6 377.2Z"/>
<path fill="#ffa700" d="M27.6 356.3L27.6 356L67.6 346.4L107.6 345.1L147.6 345.1L227.6 345.1L227.6 356.3L227.6 377.2L147.6 377.2L107.6 377.2L67.6 377.2L27.6 377.2Z"/>
<path fill="#ff9700" d="M37.6 356.3L67.6 349.2L107.6 347.9L147.6 347.9L227.6 347.9L227.6 356.3L227.6 377.2L147.6 377.2L107.6 377.2L67.6 377.2L27.6 377.2L27.6 358.7Z"/>
<path fill="#ff8700" d="M49 356.3L67.6 351.9L107.6 350.8L147.6 350.8L227.6 350.8L227.6 356.3L227.6 377.2L147.6 377.2L107.6 377.2L67.6 377.2L27.6 377.2L27.6 361.4Z"/>
<path fill="#ff7800" d="M60.3 356.3L67.6 354.6L107.6 353.6L147.6 353.6L227.6 353.6L227.6 356.3L227.6 377.2L147.6 377.2L107.6 377.2L67.6 377.2L27.6 377.2L27.6 364.2Z"/>
<path fill="#ff6800" d="M27.6 377.2L27.6 366.9L67.6 357.4L107.6 356.5L147.6 356.5L227.6 356.5L227.6 377.2L147.6 377.2L107.6 377.2L67.6 377.2Z"/>
<path fill="#ff5800" d="M27.6 377.2L27.6 369.6L67.6 360.2L107.6 359.4L147.6 359.4L227.6 359.4L227.6 377.2L147.6 377.2L107.6 377.2L67.6 377.2Z"/>
<path fill="#ff4800" d="M27.6 377.2L27.6 372.3L67.6 363L107.6 362.4L147.6 362.4L227.6 362.4L227.6 377.2L147.6 377.2L107.6 377.2L67.6 377.2Z"/>
<path fill="#ff3800" d="M27.6 377.2L27.6 375L67.6 365.9L107.6 365.3L147.6 365.3L227.6 365.3L227.6 377.2L147.6 377.2L107.6 377.2L67.6 377.2Z"/>
<path fill="#ff2800" d="M30.1 377.2L67.6 368.7L107.6 368.3L147.6 368.3L227.6 368.3L227.6 377.2L147.6 377.2L107.6 377.2L67.6 377.2Z"/>
<path fill="#ff1800" d="M42.6 377.2L67.6 371.5L107.6 371.3L147.6 371.3L227.6 371.3L227.6 377.2L147.6 377.2L107.6 377.2L67.6 377.2Z"/>
<path fill="#ff0800" d="M55.1 377.2L67.6 374.4L107.6 374.2L147.6 374.2L227.6 374.2L227.6 377.2L147.6 377.2L107.6 377.2L67.6 377.2Z"/>
</g>
<rect x="27.6" y="210.3" width="200" height="166.9" fill="none" stroke="#3a3a3a" stroke-width="0.65"/>
<path d="M27.60 210.30h-2.5M27.60 220.73h-1.3M27.60 231.16h-2.5M27.60 241.59h-1.3M27.60 252.03h-2.5M27.60 262.46h-1.3M27.60 272.89h-2.5M27.60 283.32h-1.3M27.60 293.75h-2.5M27.60 304.18h-1.3M27.60 314.61h-2.5M27.60 325.04h-1.3M27.60 335.48h-2.5M27.60 345.91h-1.3M27.60 356.34h-2.5M27.60 366.77h-1.3M27.60 377.20h-2.5M27.60 377.20v2.5M47.60 377.20v1.3M67.60 377.20v2.5M87.60 377.20v1.3M107.60 377.20v2.5M127.60 377.20v1.3M147.60 377.20v2.5M167.60 377.20v1.3M187.60 377.20v2.5M207.60 377.20v1.3M227.60 377.20v2.5M27.60 209.90V377.20H228.00" fill="none" stroke="#161616" stroke-width="0.75"/>
<text transform="translate(22.6 212.6) rotate(0.1) scale(0.835 1)" font-size="6.9" text-anchor="end">320</text>
<text transform="translate(22.6 233.463) rotate(0.1) scale(0.835 1)" font-size="6.9" text-anchor="end">310</text>
<text transform="translate(22.6 254.325) rotate(0.1) scale(0.835 1)" font-size="6.9" text-anchor="end">300</text>
<text transform="translate(22.6 275.188) rotate(0.1) scale(0.835 1)" font-size="6.9" text-anchor="end">290</text>
<text transform="translate(22.6 296.05) rotate(0.1) scale(0.835 1)" font-size="6.9" text-anchor="end">280</text>
<text transform="translate(22.6 316.913) rotate(0.1) scale(0.835 1)" font-size="6.9" text-anchor="end">270</text>
<text transform="translate(22.6 337.775) rotate(0.1) scale(0.835 1)" font-size="6.9" text-anchor="end">260</text>
<text transform="translate(22.6 358.637) rotate(0.1) scale(0.835 1)" font-size="6.9" text-anchor="end">250</text>
<text transform="translate(22.6 379.5) rotate(0.1) scale(0.835 1)" font-size="6.9" text-anchor="end">240</text>
<text transform="translate(27.1 388.2) rotate(0.1) scale(0.835 1)" font-size="6.9" text-anchor="middle">30</text>
<text transform="translate(67.1 388.2) rotate(0.1) scale(0.835 1)" font-size="6.9" text-anchor="middle">40</text>
<text transform="translate(107.1 388.2) rotate(0.1) scale(0.835 1)" font-size="6.9" text-anchor="middle">50</text>
<text transform="translate(147.1 388.2) rotate(0.1) scale(0.835 1)" font-size="6.9" text-anchor="middle">60</text>
<text transform="translate(187.1 388.2) rotate(0.1) scale(0.835 1)" font-size="6.9" text-anchor="middle">70</text>
<text transform="translate(227.1 388.2) rotate(0.1) scale(0.835 1)" font-size="6.9" text-anchor="middle">80</text>
<text class="b" transform="translate(128 403.7) rotate(0.1) scale(0.835 1)" font-size="10.7" text-anchor="middle">Thickness (nm)</text>
<text class="b" transform="translate(9.85 295.3) rotate(-89.9) scale(1 0.835)" font-size="10.8" text-anchor="middle">Temperature (°C)</text>
<rect x="231.3" y="212.5" width="11.9" height="163.1" fill="url(#cbg)" stroke="#444" stroke-width="0.55"/>
<text transform="translate(247.2 214) rotate(0.1) scale(0.835 1)" font-size="4.6" text-anchor="start">76.85</text>
<text transform="translate(247.2 234.387) rotate(0.1) scale(0.835 1)" font-size="4.6" text-anchor="start">76.50</text>
<text transform="translate(247.2 254.775) rotate(0.1) scale(0.835 1)" font-size="4.6" text-anchor="start">76.14</text>
<text transform="translate(247.2 275.163) rotate(0.1) scale(0.835 1)" font-size="4.6" text-anchor="start">75.79</text>
<text transform="translate(247.2 295.55) rotate(0.1) scale(0.835 1)" font-size="4.6" text-anchor="start">75.44</text>
<text transform="translate(247.2 315.938) rotate(0.1) scale(0.835 1)" font-size="4.6" text-anchor="start">75.09</text>
<text transform="translate(247.2 336.325) rotate(0.1) scale(0.835 1)" font-size="4.6" text-anchor="start">74.73</text>
<text transform="translate(247.2 356.713) rotate(0.1) scale(0.835 1)" font-size="4.6" text-anchor="start">74.38</text>
<text transform="translate(247.2 377.1) rotate(0.1) scale(0.835 1)" font-size="4.6" text-anchor="start">74.03</text>
<path d="M243.20 212.50h1.8M243.20 232.89h1.8M243.20 253.28h1.8M243.20 273.66h1.8M243.20 294.05h1.8M243.20 314.44h1.8M243.20 334.83h1.8M243.20 355.21h1.8M243.20 375.60h1.8" fill="none" stroke="#161616" stroke-width="0.75"/>
<text class="b" transform="translate(226.7 208.1) rotate(0.1) scale(0.835 1)" font-size="10" text-anchor="start">FF(%)</text>
<g clip-path="url(#cpd)">
<rect x="301.6" y="210.3" width="200.2" height="166.9" fill="#0038ff"/>
<path fill="#0048ff" d="M301.6 231.2L301.6 211.2L341.6 211.2L433.7 211.2L457.8 211.2L501.8 211.2L501.8 231.2L501.8 252L501.8 272.9L501.8 293.8L501.8 314.6L501.8 335.5L501.8 356.3L501.8 377.2L457.8 377.2L433.7 377.2L341.6 377.2L301.6 377.2L301.6 356.3L301.6 335.5L301.6 314.6L301.6 293.8L301.6 272.9L301.6 252Z"/>
<path fill="#0058ff" d="M301.6 231.2L301.6 212.4L341.6 212.3L433.7 212.3L457.8 212.3L501.8 212.3L501.8 231.2L501.8 252L501.8 272.9L501.8 293.8L501.8 314.6L501.8 335.5L501.8 356.3L501.8 377.2L457.8 377.2L433.7 377.2L341.6 377.2L301.6 377.2L301.6 356.3L301.6 335.5L301.6 314.6L301.6 293.8L301.6 272.9L301.6 252Z"/>
<path fill="#0068ff" d="M301.6 231.2L301.6 213.6L341.6 213.4L433.7 213.4L457.8 213.4L501.8 213.3L501.8 231.2L501.8 252L501.8 272.9L501.8 293.8L501.8 314.6L501.8 335.5L501.8 356.3L501.8 377.2L457.8 377.2L433.7 377.2L341.6 377.2L301.6 377.2L301.6 356.3L301.6 335.5L301.6 314.6L301.6 293.8L301.6 272.9L301.6 252Z"/>
<path fill="#0078ff" d="M301.6 231.2L301.6 214.7L341.6 214.6L433.7 214.6L457.8 214.5L501.8 214.4L501.8 231.2L501.8 252L501.8 272.9L501.8 293.8L501.8 314.6L501.8 335.5L501.8 356.3L501.8 377.2L457.8 377.2L433.7 377.2L341.6 377.2L301.6 377.2L301.6 356.3L301.6 335.5L301.6 314.6L301.6 293.8L301.6 272.9L301.6 252Z"/>
<path fill="#0087ff" d="M301.6 231.2L301.6 215.9L341.6 215.7L433.7 215.7L457.8 215.6L501.8 215.5L501.8 231.2L501.8 252L501.8 272.9L501.8 293.8L501.8 314.6L501.8 335.5L501.8 356.3L501.8 377.2L457.8 377.2L433.7 377.2L341.6 377.2L301.6 377.2L301.6 356.3L301.6 335.5L301.6 314.6L301.6 293.8L301.6 272.9L301.6 252Z"/>
<path fill="#0097ff" d="M301.6 231.2L301.6 217.1L341.6 216.8L433.7 216.8L457.8 216.7L501.8 216.6L501.8 231.2L501.8 252L501.8 272.9L501.8 293.8L501.8 314.6L501.8 335.5L501.8 356.3L501.8 377.2L457.8 377.2L433.7 377.2L341.6 377.2L301.6 377.2L301.6 356.3L301.6 335.5L301.6 314.6L301.6 293.8L301.6 272.9L301.6 252Z"/>
<path fill="#00a7ff" d="M301.6 231.2L301.6 218.2L341.6 217.9L433.7 217.9L457.8 217.8L501.8 217.7L501.8 231.2L501.8 252L501.8 272.9L501.8 293.8L501.8 314.6L501.8 335.5L501.8 356.3L501.8 377.2L457.8 377.2L433.7 377.2L341.6 377.2L301.6 377.2L301.6 356.3L301.6 335.5L301.6 314.6L301.6 293.8L301.6 272.9L301.6 252Z"/>
<path fill="#00b7ff" d="M301.6 231.2L301.6 219.4L341.6 219.1L433.7 219.1L457.8 218.9L501.8 218.8L501.8 231.2L501.8 252L501.8 272.9L501.8 293.8L501.8 314.6L501.8 335.5L501.8 356.3L501.8 377.2L457.8 377.2L433.7 377.2L341.6 377.2L301.6 377.2L301.6 356.3L301.6 335.5L301.6 314.6L301.6 293.8L301.6 272.9L301.6 252Z"/>
<path fill="#00c7ff" d="M301.6 231.2L301.6 220.5L341.6 220.2L433.7 220.2L457.8 220L501.8 219.9L501.8 231.2L501.8 252L501.8 272.9L501.8 293.8L501.8 314.6L501.8 335.5L501.8 356.3L501.8 377.2L457.8 377.2L433.7 377.2L341.6 377.2L301.6 377.2L301.6 356.3L301.6 335.5L301.6 314.6L301.6 293.8L301.6 272.9L301.6 252Z"/>
<path fill="#00d7ff" d="M301.6 231.2L301.6 221.7L341.6 221.3L433.7 221.3L457.8 221.1L501.8 220.9L501.8 231.2L501.8 252L501.8 272.9L501.8 293.8L501.8 314.6L501.8 335.5L501.8 356.3L501.8 377.2L457.8 377.2L433.7 377.2L341.6 377.2L301.6 377.2L301.6 356.3L301.6 335.5L301.6 314.6L301.6 293.8L301.6 272.9L301.6 252Z"/>
<path fill="#00e7ff" d="M301.6 231.2L301.6 222.9L341.6 222.4L433.7 222.4L457.8 222.2L501.8 222L501.8 231.2L501.8 252L501.8 272.9L501.8 293.8L501.8 314.6L501.8 335.5L501.8 356.3L501.8 377.2L457.8 377.2L433.7 377.2L341.6 377.2L301.6 377.2L301.6 356.3L301.6 335.5L301.6 314.6L301.6 293.8L301.6 272.9L301.6 252Z"/>
<path fill="#00f7ff" d="M301.6 231.2L301.6 224L341.6 223.6L433.7 223.6L457.8 223.3L501.8 223.1L501.8 231.2L501.8 252L501.8 272.9L501.8 293.8L501.8 314.6L501.8 335.5L501.8 356.3L501.8 377.2L457.8 377.2L433.7 377.2L341.6 377.2L301.6 377.2L301.6 356.3L301.6 335.5L301.6 314.6L301.6 293.8L301.6 272.9L301.6 252Z"/>
<path fill="#00fff7" d="M301.6 231.2L301.6 225.2L341.6 224.7L433.7 224.7L457.8 224.4L501.8 224.2L501.8 231.2L501.8 252L501.8 272.9L501.8 293.8L501.8 314.6L501.8 335.5L501.8 356.3L501.8 377.2L457.8 377.2L433.7 377.2L341.6 377.2L301.6 377.2L301.6 356.3L301.6 335.5L301.6 314.6L301.6 293.8L301.6 272.9L301.6 252Z"/>
<path fill="#00ffe7" d="M301.6 231.2L301.6 226.4L341.6 225.8L433.7 225.8L457.8 225.5L501.8 225.3L501.8 231.2L501.8 252L501.8 272.9L501.8 293.8L501.8 314.6L501.8 335.5L501.8 356.3L501.8 377.2L457.8 377.2L433.7 377.2L341.6 377.2L301.6 377.2L301.6 356.3L301.6 335.5L301.6 314.6L301.6 293.8L301.6 272.9L301.6 252Z"/>
<path fill="#00ffd7" d="M301.6 231.2L301.6 227.5L341.6 226.9L433.7 226.9L457.8 226.7L501.8 226.4L501.8 231.2L501.8 252L501.8 272.9L501.8 293.8L501.8 314.6L501.8 335.5L501.8 356.3L501.8 377.2L457.8 377.2L433.7 377.2L341.6 377.2L301.6 377.2L301.6 356.3L301.6 335.5L301.6 314.6L301.6 293.8L301.6 272.9L301.6 252Z"/>
<path fill="#00ffc7" d="M301.6 231.2L301.6 228.7L341.6 228.1L433.7 228.1L457.8 227.8L501.8 227.5L501.8 231.2L501.8 252L501.8 272.9L501.8 293.8L501.8 314.6L501.8 335.5L501.8 356.3L501.8 377.2L457.8 377.2L433.7 377.2L341.6 377.2L301.6 377.2L301.6 356.3L301.6 335.5L301.6 314.6L301.6 293.8L301.6 272.9L301.6 252Z"/>
<path fill="#00ffb7" d="M301.6 231.2L301.6 229.9L341.6 229.2L433.7 229.2L457.8 228.9L501.8 228.6L501.8 231.2L501.8 252L501.8 272.9L501.8 293.8L501.8 314.6L501.8 335.5L501.8 356.3L501.8 377.2L457.8 377.2L433.7 377.2L341.6 377.2L301.6 377.2L301.6 356.3L301.6 335.5L301.6 314.6L301.6 293.8L301.6 272.9L301.6 252Z"/>
<path fill="#00ffa7" d="M301.6 231.2L301.6 231L341.6 230.3L433.7 230.3L457.8 230L501.8 229.6L501.8 231.2L501.8 252L501.8 272.9L501.8 293.8L501.8 314.6L501.8 335.5L501.8 356.3L501.8 377.2L457.8 377.2L433.7 377.2L341.6 377.2L301.6 377.2L301.6 356.3L301.6 335.5L301.6 314.6L301.6 293.8L301.6 272.9L301.6 252Z"/>
<path fill="#00ff97" d="M451.8 231.2L457.8 231.1L501.8 230.7L501.8 231.2L501.8 252L501.8 272.9L501.8 293.8L501.8 314.6L501.8 335.5L501.8 356.3L501.8 377.2L457.8 377.2L433.7 377.2L341.6 377.2L301.6 377.2L301.6 356.3L301.6 335.5L301.6 314.6L301.6 293.8L301.6 272.9L301.6 252L301.6 231.9L341.6 231.4L433.7 231.4Z"/>
<path fill="#00ff87" d="M301.6 252L301.6 232.8L341.6 232.2L433.7 232.2L457.8 232L501.8 231.7L501.8 252L501.8 272.9L501.8 293.8L501.8 314.6L501.8 335.5L501.8 356.3L501.8 377.2L457.8 377.2L433.7 377.2L341.6 377.2L301.6 377.2L301.6 356.3L301.6 335.5L301.6 314.6L301.6 293.8L301.6 272.9Z"/>
<path fill="#00ff78" d="M301.6 252L301.6 233.6L341.6 233.1L433.7 233.1L457.8 232.8L501.8 232.6L501.8 252L501.8 272.9L501.8 293.8L501.8 314.6L501.8 335.5L501.8 356.3L501.8 377.2L457.8 377.2L433.7 377.2L341.6 377.2L301.6 377.2L301.6 356.3L301.6 335.5L301.6 314.6L301.6 293.8L301.6 272.9Z"/>
<path fill="#00ff68" d="M301.6 252L301.6 234.5L341.6 233.9L433.7 233.9L457.8 233.7L501.8 233.5L501.8 252L501.8 272.9L501.8 293.8L501.8 314.6L501.8 335.5L501.8 356.3L501.8 377.2L457.8 377.2L433.7 377.2L341.6 377.2L301.6 377.2L301.6 356.3L301.6 335.5L301.6 314.6L301.6 293.8L301.6 272.9Z"/>
<path fill="#00ff58" d="M301.6 252L301.6 235.3L341.6 234.8L433.7 234.8L457.8 234.6L501.8 234.3L501.8 252L501.8 272.9L501.8 293.8L501.8 314.6L501.8 335.5L501.8 356.3L501.8 377.2L457.8 377.2L433.7 377.2L341.6 377.2L301.6 377.2L301.6 356.3L301.6 335.5L301.6 314.6L301.6 293.8L301.6 272.9Z"/>
<path fill="#00ff48" d="M301.6 252L301.6 236.2L341.6 235.7L433.7 235.7L457.8 235.4L501.8 235.2L501.8 252L501.8 272.9L501.8 293.8L501.8 314.6L501.8 335.5L501.8 356.3L501.8 377.2L457.8 377.2L433.7 377.2L341.6 377.2L301.6 377.2L301.6 356.3L301.6 335.5L301.6 314.6L301.6 293.8L301.6 272.9Z"/>
<path fill="#00ff38" d="M301.6 252L301.6 237.1L341.6 236.5L433.7 236.5L457.8 236.3L501.8 236.1L501.8 252L501.8 272.9L501.8 293.8L501.8 314.6L501.8 335.5L501.8 356.3L501.8 377.2L457.8 377.2L433.7 377.2L341.6 377.2L301.6 377.2L301.6 356.3L301.6 335.5L301.6 314.6L301.6 293.8L301.6 272.9Z"/>
<path fill="#00ff28" d="M301.6 252L301.6 237.9L341.6 237.4L433.7 237.4L457.8 237.2L501.8 237L501.8 252L501.8 272.9L501.8 293.8L501.8 314.6L501.8 335.5L501.8 356.3L501.8 377.2L457.8 377.2L433.7 377.2L341.6 377.2L301.6 377.2L301.6 356.3L301.6 335.5L301.6 314.6L301.6 293.8L301.6 272.9Z"/>
<path fill="#00ff18" d="M301.6 252L301.6 238.8L341.6 238.2L433.7 238.2L457.8 238L501.8 237.9L501.8 252L501.8 272.9L501.8 293.8L501.8 314.6L501.8 335.5L501.8 356.3L501.8 377.2L457.8 377.2L433.7 377.2L341.6 377.2L301.6 377.2L301.6 356.3L301.6 335.5L301.6 314.6L301.6 293.8L301.6 272.9Z"/>
<path fill="#00ff08" d="M301.6 252L301.6 239.6L341.6 239.1L433.7 239.1L457.8 238.9L501.8 238.7L501.8 252L501.8 272.9L501.8 293.8L501.8 314.6L501.8 335.5L501.8 356.3L501.8 377.2L457.8 377.2L433.7 377.2L341.6 377.2L301.6 377.2L301.6 356.3L301.6 335.5L301.6 314.6L301.6 293.8L301.6 272.9Z"/>
<path fill="#08ff00" d="M301.6 252L301.6 240.5L341.6 239.9L433.7 239.9L457.8 239.8L501.8 239.6L501.8 252L501.8 272.9L501.8 293.8L501.8 314.6L501.8 335.5L501.8 356.3L501.8 377.2L457.8 377.2L433.7 377.2L341.6 377.2L301.6 377.2L301.6 356.3L301.6 335.5L301.6 314.6L301.6 293.8L301.6 272.9Z"/>
<path fill="#18ff00" d="M301.6 252L301.6 241.4L341.6 240.8L433.7 240.8L457.8 240.7L501.8 240.5L501.8 252L501.8 272.9L501.8 293.8L501.8 314.6L501.8 335.5L501.8 356.3L501.8 377.2L457.8 377.2L433.7 377.2L341.6 377.2L301.6 377.2L301.6 356.3L301.6 335.5L301.6 314.6L301.6 293.8L301.6 272.9Z"/>
<path fill="#28ff00" d="M301.6 252L301.6 242.2L341.6 241.7L433.7 241.7L457.8 241.5L501.8 241.4L501.8 252L501.8 272.9L501.8 293.8L501.8 314.6L501.8 335.5L501.8 356.3L501.8 377.2L457.8 377.2L433.7 377.2L341.6 377.2L301.6 377.2L301.6 356.3L301.6 335.5L301.6 314.6L301.6 293.8L301.6 272.9Z"/>
<path fill="#38ff00" d="M301.6 252L301.6 243.1L341.6 242.5L433.7 242.5L457.8 242.4L501.8 242.3L501.8 252L501.8 272.9L501.8 293.8L501.8 314.6L501.8 335.5L501.8 356.3L501.8 377.2L457.8 377.2L433.7 377.2L341.6 377.2L301.6 377.2L301.6 356.3L301.6 335.5L301.6 314.6L301.6 293.8L301.6 272.9Z"/>
<path fill="#48ff00" d="M301.6 252L301.6 243.9L341.6 243.4L433.7 243.4L457.8 243.3L501.8 243.1L501.8 252L501.8 272.9L501.8 293.8L501.8 314.6L501.8 335.5L501.8 356.3L501.8 377.2L457.8 377.2L433.7 377.2L341.6 377.2L301.6 377.2L301.6 356.3L301.6 335.5L301.6 314.6L301.6 293.8L301.6 272.9Z"/>
<path fill="#58ff00" d="M301.6 252L301.6 244.8L341.6 244.2L433.7 244.2L457.8 244.1L501.8 244L501.8 252L501.8 272.9L501.8 293.8L501.8 314.6L501.8 335.5L501.8 356.3L501.8 377.2L457.8 377.2L433.7 377.2L341.6 377.2L301.6 377.2L301.6 356.3L301.6 335.5L301.6 314.6L301.6 293.8L301.6 272.9Z"/>
<path fill="#68ff00" d="M301.6 252L301.6 245.6L341.6 245.1L433.7 245.1L457.8 245L501.8 244.9L501.8 252L501.8 272.9L501.8 293.8L501.8 314.6L501.8 335.5L501.8 356.3L501.8 377.2L457.8 377.2L433.7 377.2L341.6 377.2L301.6 377.2L301.6 356.3L301.6 335.5L301.6 314.6L301.6 293.8L301.6 272.9Z"/>
<path fill="#78ff00" d="M301.6 252L301.6 246.5L341.6 246L433.7 246L457.8 245.9L501.8 245.8L501.8 252L501.8 272.9L501.8 293.8L501.8 314.6L501.8 335.5L501.8 356.3L501.8 377.2L457.8 377.2L433.7 377.2L341.6 377.2L301.6 377.2L301.6 356.3L301.6 335.5L301.6 314.6L301.6 293.8L301.6 272.9Z"/>
<path fill="#87ff00" d="M301.6 252L301.6 247.4L341.6 246.8L433.7 246.8L457.8 246.7L501.8 246.7L501.8 252L501.8 272.9L501.8 293.8L501.8 314.6L501.8 335.5L501.8 356.3L501.8 377.2L457.8 377.2L433.7 377.2L341.6 377.2L301.6 377.2L301.6 356.3L301.6 335.5L301.6 314.6L301.6 293.8L301.6 272.9Z"/>
<path fill="#97ff00" d="M301.6 252L301.6 248.2L341.6 247.7L433.7 247.7L457.8 247.6L501.8 247.5L501.8 252L501.8 272.9L501.8 293.8L501.8 314.6L501.8 335.5L501.8 356.3L501.8 377.2L457.8 377.2L433.7 377.2L341.6 377.2L301.6 377.2L301.6 356.3L301.6 335.5L301.6 314.6L301.6 293.8L301.6 272.9Z"/>
<path fill="#a7ff00" d="M301.6 252L301.6 249.1L341.6 248.5L433.7 248.5L457.8 248.5L501.8 248.4L501.8 252L501.8 272.9L501.8 293.8L501.8 314.6L501.8 335.5L501.8 356.3L501.8 377.2L457.8 377.2L433.7 377.2L341.6 377.2L301.6 377.2L301.6 356.3L301.6 335.5L301.6 314.6L301.6 293.8L301.6 272.9Z"/>
<path fill="#b7ff00" d="M301.6 252L301.6 249.9L341.6 249.4L433.7 249.4L457.8 249.3L501.8 249.3L501.8 252L501.8 272.9L501.8 293.8L501.8 314.6L501.8 335.5L501.8 356.3L501.8 377.2L457.8 377.2L433.7 377.2L341.6 377.2L301.6 377.2L301.6 356.3L301.6 335.5L301.6 314.6L301.6 293.8L301.6 272.9Z"/>
<path fill="#c7ff00" d="M301.6 252L301.6 250.8L341.6 250.2L433.7 250.2L457.8 250.2L501.8 250.2L501.8 252L501.8 272.9L501.8 293.8L501.8 314.6L501.8 335.5L501.8 356.3L501.8 377.2L457.8 377.2L433.7 377.2L341.6 377.2L301.6 377.2L301.6 356.3L301.6 335.5L301.6 314.6L301.6 293.8L301.6 272.9Z"/>
<path fill="#d7ff00" d="M301.6 252L301.6 251.6L341.6 251.1L433.7 251.1L457.8 251.1L501.8 251.1L501.8 252L501.8 272.9L501.8 293.8L501.8 314.6L501.8 335.5L501.8 356.3L501.8 377.2L457.8 377.2L433.7 377.2L341.6 377.2L301.6 377.2L301.6 356.3L301.6 335.5L301.6 314.6L301.6 293.8L301.6 272.9Z"/>
<path fill="#e7ff00" d="M336.6 252L341.6 252L433.7 252L457.8 252L501.8 252L501.8 272.9L501.8 293.8L501.8 314.6L501.8 335.5L501.8 356.3L501.8 377.2L457.8 377.2L433.7 377.2L341.6 377.2L301.6 377.2L301.6 356.3L301.6 335.5L301.6 314.6L301.6 293.8L301.6 272.9L301.6 253.4Z"/>
<path fill="#f7ff00" d="M301.6 272.9L301.6 255.9L341.6 254L433.7 254L457.8 254L501.8 254L501.8 272.9L501.8 293.8L501.8 314.6L501.8 335.5L501.8 356.3L501.8 377.2L457.8 377.2L433.7 377.2L341.6 377.2L301.6 377.2L301.6 356.3L301.6 335.5L301.6 314.6L301.6 293.8Z"/>
<path fill="#fff700" d="M301.6 272.9L301.6 258.4L341.6 256.1L433.7 256.1L457.8 256.1L501.8 256.1L501.8 272.9L501.8 293.8L501.8 314.6L501.8 335.5L501.8 356.3L501.8 377.2L457.8 377.2L433.7 377.2L341.6 377.2L301.6 377.2L301.6 356.3L301.6 335.5L301.6 314.6L301.6 293.8Z"/>
<path fill="#ffe700" d="M301.6 272.9L301.6 261L341.6 258.2L433.7 258.2L457.8 258.2L501.8 258.2L501.8 272.9L501.8 293.8L501.8 314.6L501.8 335.5L501.8 356.3L501.8 377.2L457.8 377.2L433.7 377.2L341.6 377.2L301.6 377.2L301.6 356.3L301.6 335.5L301.6 314.6L301.6 293.8Z"/>
<path fill="#ffd700" d="M301.6 272.9L301.6 263.5L341.6 260.3L433.7 260.3L457.8 260.3L501.8 260.3L501.8 272.9L501.8 293.8L501.8 314.6L501.8 335.5L501.8 356.3L501.8 377.2L457.8 377.2L433.7 377.2L341.6 377.2L301.6 377.2L301.6 356.3L301.6 335.5L301.6 314.6L301.6 293.8Z"/>
<path fill="#ffc700" d="M301.6 272.9L301.6 266L341.6 262.4L433.7 262.4L457.8 262.4L501.8 262.4L501.8 272.9L501.8 293.8L501.8 314.6L501.8 335.5L501.8 356.3L501.8 377.2L457.8 377.2L433.7 377.2L341.6 377.2L301.6 377.2L301.6 356.3L301.6 335.5L301.6 314.6L301.6 293.8Z"/>
<path fill="#ffb700" d="M301.6 272.9L301.6 268.5L341.6 264.5L433.7 264.5L457.8 264.5L501.8 264.5L501.8 272.9L501.8 293.8L501.8 314.6L501.8 335.5L501.8 356.3L501.8 377.2L457.8 377.2L433.7 377.2L341.6 377.2L301.6 377.2L301.6 356.3L301.6 335.5L301.6 314.6L301.6 293.8Z"/>
<path fill="#ffa700" d="M301.6 272.9L301.6 271L341.6 266.6L433.7 266.6L457.8 266.6L501.8 266.6L501.8 272.9L501.8 293.8L501.8 314.6L501.8 335.5L501.8 356.3L501.8 377.2L457.8 377.2L433.7 377.2L341.6 377.2L301.6 377.2L301.6 356.3L301.6 335.5L301.6 314.6L301.6 293.8Z"/>
<path fill="#ff9700" d="M305.9 272.9L341.6 268.7L433.7 268.7L457.8 268.7L501.8 268.7L501.8 272.9L501.8 293.8L501.8 314.6L501.8 335.5L501.8 356.3L501.8 377.2L457.8 377.2L433.7 377.2L341.6 377.2L301.6 377.2L301.6 356.3L301.6 335.5L301.6 314.6L301.6 293.8L301.6 273.6Z"/>
<path fill="#ff8700" d="M323.8 272.9L341.6 270.8L433.7 270.8L457.8 270.8L501.8 270.8L501.8 272.9L501.8 293.8L501.8 314.6L501.8 335.5L501.8 356.3L501.8 377.2L457.8 377.2L433.7 377.2L341.6 377.2L301.6 377.2L301.6 356.3L301.6 335.5L301.6 314.6L301.6 293.8L301.6 276.8Z"/>
<path fill="#ff7800" d="M301.6 293.8L301.6 280L341.6 272.9L433.7 272.9L457.8 272.9L501.8 272.9L501.8 293.8L501.8 314.6L501.8 335.5L501.8 356.3L501.8 377.2L457.8 377.2L433.7 377.2L341.6 377.2L301.6 377.2L301.6 356.3L301.6 335.5L301.6 314.6Z"/>
<path fill="#ff6800" d="M301.6 293.8L301.6 283.1L341.6 277L433.7 277L457.8 276.4L501.8 276.4L501.8 293.8L501.8 314.6L501.8 335.5L501.8 356.3L501.8 377.2L457.8 377.2L433.7 377.2L341.6 377.2L301.6 377.2L301.6 356.3L301.6 335.5L301.6 314.6Z"/>
<path fill="#ff5800" d="M301.6 293.8L301.6 286.3L341.6 281L433.7 281L457.8 279.8L501.8 279.8L501.8 293.8L501.8 314.6L501.8 335.5L501.8 356.3L501.8 377.2L457.8 377.2L433.7 377.2L341.6 377.2L301.6 377.2L301.6 356.3L301.6 335.5L301.6 314.6Z"/>
<path fill="#ff4800" d="M301.6 293.8L301.6 289.5L341.6 285.1L433.7 285.1L457.8 283.3L501.8 283.3L501.8 293.8L501.8 314.6L501.8 335.5L501.8 356.3L501.8 377.2L457.8 377.2L433.7 377.2L341.6 377.2L301.6 377.2L301.6 356.3L301.6 335.5L301.6 314.6Z"/>
<path fill="#ff3800" d="M301.6 293.8L301.6 292.6L341.6 289.2L433.7 289.2L457.8 286.8L501.8 286.8L501.8 293.8L501.8 314.6L501.8 335.5L501.8 356.3L501.8 377.2L457.8 377.2L433.7 377.2L341.6 377.2L301.6 377.2L301.6 356.3L301.6 335.5L301.6 314.6Z"/>
<path fill="#ff2800" d="M335.4 293.8L341.6 293.3L433.7 293.3L457.8 290.2L501.8 290.2L501.8 293.8L501.8 314.6L501.8 335.5L501.8 356.3L501.8 377.2L457.8 377.2L433.7 377.2L341.6 377.2L301.6 377.2L301.6 356.3L301.6 335.5L301.6 314.6L301.6 303.4Z"/>
<path fill="#ff1800" d="M457.3 293.8L457.8 293.7L501.8 293.7L501.8 293.8L501.8 314.6L501.8 335.5L501.8 356.3L501.8 377.2L457.8 377.2L433.7 377.2L341.6 377.2L301.6 377.2L301.6 356.3L301.6 335.5L301.6 318.3L311.6 314.6L341.6 305.2L433.7 305.2Z"/>
<path fill="#ff0800" d="M451.2 314.6L457.8 312.6L501.8 312.6L501.8 314.6L501.8 335.5L501.8 356.3L501.8 377.2L457.8 377.2L433.7 377.2L341.6 377.2L301.6 377.2L301.6 356.3L301.6 335.5L301.6 333.9L341.6 320.7L433.7 320.7Z"/>
</g>
<rect x="301.6" y="210.3" width="200.2" height="166.9" fill="none" stroke="#3a3a3a" stroke-width="0.65"/>
<path d="M301.60 210.30h-2.5M301.60 220.73h-1.3M301.60 231.16h-2.5M301.60 241.59h-1.3M301.60 252.03h-2.5M301.60 262.46h-1.3M301.60 272.89h-2.5M301.60 283.32h-1.3M301.60 293.75h-2.5M301.60 304.18h-1.3M301.60 314.61h-2.5M301.60 325.04h-1.3M301.60 335.48h-2.5M301.60 345.91h-1.3M301.60 356.34h-2.5M301.60 366.77h-1.3M301.60 377.20h-2.5M301.60 377.20v2.5M321.62 377.20v1.3M341.64 377.20v2.5M361.66 377.20v1.3M381.68 377.20v2.5M401.70 377.20v1.3M421.72 377.20v2.5M441.74 377.20v1.3M461.76 377.20v2.5M481.78 377.20v1.3M501.80 377.20v2.5M301.60 209.90V377.20H502.20" fill="none" stroke="#161616" stroke-width="0.75"/>
<text transform="translate(296.6 212.6) rotate(0.1) scale(0.835 1)" font-size="6.9" text-anchor="end">320</text>
<text transform="translate(296.6 233.463) rotate(0.1) scale(0.835 1)" font-size="6.9" text-anchor="end">310</text>
<text transform="translate(296.6 254.325) rotate(0.1) scale(0.835 1)" font-size="6.9" text-anchor="end">300</text>
<text transform="translate(296.6 275.188) rotate(0.1) scale(0.835 1)" font-size="6.9" text-anchor="end">290</text>
<text transform="translate(296.6 296.05) rotate(0.1) scale(0.835 1)" font-size="6.9" text-anchor="end">280</text>
<text transform="translate(296.6 316.913) rotate(0.1) scale(0.835 1)" font-size="6.9" text-anchor="end">270</text>
<text transform="translate(296.6 337.775) rotate(0.1) scale(0.835 1)" font-size="6.9" text-anchor="end">260</text>
<text transform="translate(296.6 358.637) rotate(0.1) scale(0.835 1)" font-size="6.9" text-anchor="end">250</text>
<text transform="translate(296.6 379.5) rotate(0.1) scale(0.835 1)" font-size="6.9" text-anchor="end">240</text>
<text transform="translate(301.1 388.2) rotate(0.1) scale(0.835 1)" font-size="6.9" text-anchor="middle">30</text>
<text transform="translate(341.14 388.2) rotate(0.1) scale(0.835 1)" font-size="6.9" text-anchor="middle">40</text>
<text transform="translate(381.18 388.2) rotate(0.1) scale(0.835 1)" font-size="6.9" text-anchor="middle">50</text>
<text transform="translate(421.22 388.2) rotate(0.1) scale(0.835 1)" font-size="6.9" text-anchor="middle">60</text>
<text transform="translate(461.26 388.2) rotate(0.1) scale(0.835 1)" font-size="6.9" text-anchor="middle">70</text>
<text transform="translate(501.3 388.2) rotate(0.1) scale(0.835 1)" font-size="6.9" text-anchor="middle">80</text>
<text class="b" transform="translate(402 403.7) rotate(0.1) scale(0.835 1)" font-size="10.7" text-anchor="middle">Thickness (nm)</text>
<text class="b" transform="translate(284.05 295.3) rotate(-89.9) scale(1 0.79)" font-size="10.8" text-anchor="middle">Temperature (°C)</text>
<rect x="504.9" y="212.5" width="11.6" height="163.1" fill="url(#cbg)" stroke="#444" stroke-width="0.55"/>
<text transform="translate(520.2 214) rotate(0.1) scale(0.835 1)" font-size="5.5" text-anchor="start">21.79</text>
<text transform="translate(520.2 234.387) rotate(0.1) scale(0.835 1)" font-size="5.5" text-anchor="start">21.72</text>
<text transform="translate(520.2 254.775) rotate(0.1) scale(0.835 1)" font-size="5.5" text-anchor="start">21.66</text>
<text transform="translate(520.2 275.163) rotate(0.1) scale(0.835 1)" font-size="5.5" text-anchor="start">21.59</text>
<text transform="translate(520.2 295.55) rotate(0.1) scale(0.835 1)" font-size="5.5" text-anchor="start">21.52</text>
<text transform="translate(520.2 315.938) rotate(0.1) scale(0.835 1)" font-size="5.5" text-anchor="start">21.46</text>
<text transform="translate(520.2 336.325) rotate(0.1) scale(0.835 1)" font-size="5.5" text-anchor="start">21.39</text>
<text transform="translate(520.2 356.713) rotate(0.1) scale(0.835 1)" font-size="5.5" text-anchor="start">21.33</text>
<text transform="translate(520.2 377.1) rotate(0.1) scale(0.835 1)" font-size="5.5" text-anchor="start">21.26</text>
<path d="M516.50 212.50h1.8M516.50 232.89h1.8M516.50 253.28h1.8M516.50 273.66h1.8M516.50 294.05h1.8M516.50 314.44h1.8M516.50 334.83h1.8M516.50 355.21h1.8M516.50 375.60h1.8" fill="none" stroke="#161616" stroke-width="0.75"/>
<text class="b" transform="translate(498.5 209.3) rotate(0.1) scale(0.865 1)" font-size="9.9" text-anchor="start">PCE(%)</text>
</svg></body></html>
